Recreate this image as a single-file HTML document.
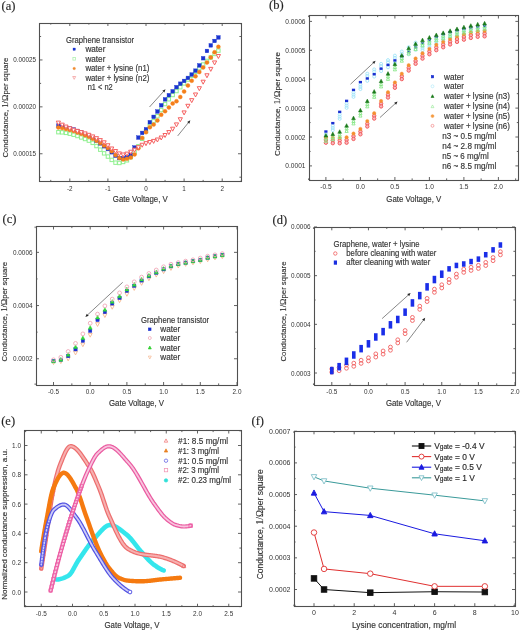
<!DOCTYPE html>
<html><head><meta charset="utf-8"><style>
html,body{margin:0;padding:0;background:#fff;}
svg{display:block;filter:blur(0.35px);}
text{stroke:#383838;stroke-width:0.16px;}
text.t{stroke:none;}
</style></head><body>
<svg width="520" height="631" viewBox="0 0 520 631">
<rect width="520" height="631" fill="#fff"/>
<rect x="39.5" y="23.5" width="202" height="158" fill="none" stroke="#505050" stroke-width="1.1"/>
<path d="M69.8 181.5v-3M69.8 23v3M107.9 181.5v-3M107.9 23v3M146 181.5v-3M146 23v3M184.1 181.5v-3M184.1 23v3M222.2 181.5v-3M222.2 23v3M50.75 181.5v-1.6M50.75 23v1.6M88.85 181.5v-1.6M88.85 23v1.6M126.95 181.5v-1.6M126.95 23v1.6M165.05 181.5v-1.6M165.05 23v1.6M203.15 181.5v-1.6M203.15 23v1.6M241.25 181.5v-1.6M241.25 23v1.6M39.5 153.75h3M241 153.75h-3M39.5 106.85h3M241 106.85h-3M39.5 59.95h3M241 59.95h-3M39.5 177.2h1.6M241 177.2h-1.6M39.5 130.3h1.6M241 130.3h-1.6M39.5 83.4h1.6M241 83.4h-1.6M39.5 36.5h1.6M241 36.5h-1.6" stroke="#505050" stroke-width="0.9" fill="none"/>
<text x="69.8" y="190.5" font-size="6.3" text-anchor="middle" fill="#333" font-family='"Liberation Sans", sans-serif' class="t">-2</text>
<text x="107.9" y="190.5" font-size="6.3" text-anchor="middle" fill="#333" font-family='"Liberation Sans", sans-serif' class="t">-1</text>
<text x="146" y="190.5" font-size="6.3" text-anchor="middle" fill="#333" font-family='"Liberation Sans", sans-serif' class="t">0</text>
<text x="184.1" y="190.5" font-size="6.3" text-anchor="middle" fill="#333" font-family='"Liberation Sans", sans-serif' class="t">1</text>
<text x="222.2" y="190.5" font-size="6.3" text-anchor="middle" fill="#333" font-family='"Liberation Sans", sans-serif' class="t">2</text>
<text x="36" y="156.25" font-size="6.3" text-anchor="end" fill="#333" font-family='"Liberation Sans", sans-serif' class="t">0.00015</text>
<text x="36" y="109.35" font-size="6.3" text-anchor="end" fill="#333" font-family='"Liberation Sans", sans-serif' class="t">0.00020</text>
<text x="36" y="62.45" font-size="6.3" text-anchor="end" fill="#333" font-family='"Liberation Sans", sans-serif' class="t">0.00025</text>
<rect x="56.67" y="130.48" width="3.4" height="3.4" fill="#fff" fill-opacity="0" stroke="#90f090" stroke-width="1.0"/>
<rect x="60.48" y="130.66" width="3.4" height="3.4" fill="#fff" fill-opacity="0" stroke="#90f090" stroke-width="1.0"/>
<rect x="64.29" y="131.18" width="3.4" height="3.4" fill="#fff" fill-opacity="0" stroke="#90f090" stroke-width="1.0"/>
<rect x="68.1" y="131.99" width="3.4" height="3.4" fill="#fff" fill-opacity="0" stroke="#90f090" stroke-width="1.0"/>
<rect x="71.91" y="133.05" width="3.4" height="3.4" fill="#fff" fill-opacity="0" stroke="#90f090" stroke-width="1.0"/>
<rect x="75.72" y="134.31" width="3.4" height="3.4" fill="#fff" fill-opacity="0" stroke="#90f090" stroke-width="1.0"/>
<rect x="79.53" y="135.74" width="3.4" height="3.4" fill="#fff" fill-opacity="0" stroke="#90f090" stroke-width="1.0"/>
<rect x="83.34" y="137.29" width="3.4" height="3.4" fill="#fff" fill-opacity="0" stroke="#90f090" stroke-width="1.0"/>
<rect x="87.15" y="138.92" width="3.4" height="3.4" fill="#fff" fill-opacity="0" stroke="#90f090" stroke-width="1.0"/>
<rect x="90.96" y="141.18" width="3.4" height="3.4" fill="#fff" fill-opacity="0" stroke="#90f090" stroke-width="1.0"/>
<rect x="94.77" y="144.35" width="3.4" height="3.4" fill="#fff" fill-opacity="0" stroke="#90f090" stroke-width="1.0"/>
<rect x="98.58" y="147.99" width="3.4" height="3.4" fill="#fff" fill-opacity="0" stroke="#90f090" stroke-width="1.0"/>
<rect x="102.39" y="151.65" width="3.4" height="3.4" fill="#fff" fill-opacity="0" stroke="#90f090" stroke-width="1.0"/>
<rect x="106.2" y="154.86" width="3.4" height="3.4" fill="#fff" fill-opacity="0" stroke="#90f090" stroke-width="1.0"/>
<rect x="110.01" y="158.2" width="3.4" height="3.4" fill="#fff" fill-opacity="0" stroke="#90f090" stroke-width="1.0"/>
<rect x="113.82" y="160.98" width="3.4" height="3.4" fill="#fff" fill-opacity="0" stroke="#90f090" stroke-width="1.0"/>
<rect x="117.63" y="161.28" width="3.4" height="3.4" fill="#fff" fill-opacity="0" stroke="#90f090" stroke-width="1.0"/>
<rect x="121.44" y="160.25" width="3.4" height="3.4" fill="#fff" fill-opacity="0" stroke="#90f090" stroke-width="1.0"/>
<rect x="125.25" y="158.62" width="3.4" height="3.4" fill="#fff" fill-opacity="0" stroke="#90f090" stroke-width="1.0"/>
<rect x="129.06" y="155.48" width="3.4" height="3.4" fill="#fff" fill-opacity="0" stroke="#90f090" stroke-width="1.0"/>
<rect x="132.87" y="150.4" width="3.4" height="3.4" fill="#fff" fill-opacity="0" stroke="#90f090" stroke-width="1.0"/>
<rect x="136.68" y="144.55" width="3.4" height="3.4" fill="#fff" fill-opacity="0" stroke="#90f090" stroke-width="1.0"/>
<rect x="140.49" y="137.1" width="3.4" height="3.4" fill="#fff" fill-opacity="0" stroke="#90f090" stroke-width="1.0"/>
<rect x="144.3" y="129.54" width="3.4" height="3.4" fill="#fff" fill-opacity="0" stroke="#90f090" stroke-width="1.0"/>
<rect x="148.11" y="124.17" width="3.4" height="3.4" fill="#fff" fill-opacity="0" stroke="#90f090" stroke-width="1.0"/>
<rect x="151.92" y="119.53" width="3.4" height="3.4" fill="#fff" fill-opacity="0" stroke="#90f090" stroke-width="1.0"/>
<rect x="155.73" y="114.53" width="3.4" height="3.4" fill="#fff" fill-opacity="0" stroke="#90f090" stroke-width="1.0"/>
<rect x="159.54" y="108.32" width="3.4" height="3.4" fill="#fff" fill-opacity="0" stroke="#90f090" stroke-width="1.0"/>
<rect x="163.35" y="102.34" width="3.4" height="3.4" fill="#fff" fill-opacity="0" stroke="#90f090" stroke-width="1.0"/>
<rect x="167.16" y="97.57" width="3.4" height="3.4" fill="#fff" fill-opacity="0" stroke="#90f090" stroke-width="1.0"/>
<rect x="170.97" y="93.3" width="3.4" height="3.4" fill="#fff" fill-opacity="0" stroke="#90f090" stroke-width="1.0"/>
<rect x="174.78" y="89.34" width="3.4" height="3.4" fill="#fff" fill-opacity="0" stroke="#90f090" stroke-width="1.0"/>
<rect x="178.59" y="85.53" width="3.4" height="3.4" fill="#fff" fill-opacity="0" stroke="#90f090" stroke-width="1.0"/>
<rect x="182.4" y="81.7" width="3.4" height="3.4" fill="#fff" fill-opacity="0" stroke="#90f090" stroke-width="1.0"/>
<rect x="186.21" y="77.83" width="3.4" height="3.4" fill="#fff" fill-opacity="0" stroke="#90f090" stroke-width="1.0"/>
<rect x="190.02" y="74" width="3.4" height="3.4" fill="#fff" fill-opacity="0" stroke="#90f090" stroke-width="1.0"/>
<rect x="193.83" y="70.22" width="3.4" height="3.4" fill="#fff" fill-opacity="0" stroke="#90f090" stroke-width="1.0"/>
<rect x="197.64" y="66.5" width="3.4" height="3.4" fill="#fff" fill-opacity="0" stroke="#90f090" stroke-width="1.0"/>
<rect x="201.45" y="62.84" width="3.4" height="3.4" fill="#fff" fill-opacity="0" stroke="#90f090" stroke-width="1.0"/>
<rect x="205.26" y="59.24" width="3.4" height="3.4" fill="#fff" fill-opacity="0" stroke="#90f090" stroke-width="1.0"/>
<rect x="209.07" y="55.71" width="3.4" height="3.4" fill="#fff" fill-opacity="0" stroke="#90f090" stroke-width="1.0"/>
<rect x="212.88" y="52.25" width="3.4" height="3.4" fill="#fff" fill-opacity="0" stroke="#90f090" stroke-width="1.0"/>
<rect x="216.69" y="48.87" width="3.4" height="3.4" fill="#fff" fill-opacity="0" stroke="#90f090" stroke-width="1.0"/>
<rect x="56.57" y="123.81" width="3.6" height="3.6" fill="#1a34d0" stroke="#1a34d0" stroke-width="0.4"/>
<rect x="60.38" y="124.42" width="3.6" height="3.6" fill="#1a34d0" stroke="#1a34d0" stroke-width="0.4"/>
<rect x="64.19" y="125.28" width="3.6" height="3.6" fill="#1a34d0" stroke="#1a34d0" stroke-width="0.4"/>
<rect x="68" y="126.37" width="3.6" height="3.6" fill="#1a34d0" stroke="#1a34d0" stroke-width="0.4"/>
<rect x="71.81" y="127.66" width="3.6" height="3.6" fill="#1a34d0" stroke="#1a34d0" stroke-width="0.4"/>
<rect x="75.62" y="129.11" width="3.6" height="3.6" fill="#1a34d0" stroke="#1a34d0" stroke-width="0.4"/>
<rect x="79.43" y="130.69" width="3.6" height="3.6" fill="#1a34d0" stroke="#1a34d0" stroke-width="0.4"/>
<rect x="83.24" y="132.38" width="3.6" height="3.6" fill="#1a34d0" stroke="#1a34d0" stroke-width="0.4"/>
<rect x="87.05" y="134.13" width="3.6" height="3.6" fill="#1a34d0" stroke="#1a34d0" stroke-width="0.4"/>
<rect x="90.86" y="136.21" width="3.6" height="3.6" fill="#1a34d0" stroke="#1a34d0" stroke-width="0.4"/>
<rect x="94.67" y="138.76" width="3.6" height="3.6" fill="#1a34d0" stroke="#1a34d0" stroke-width="0.4"/>
<rect x="98.48" y="141.58" width="3.6" height="3.6" fill="#1a34d0" stroke="#1a34d0" stroke-width="0.4"/>
<rect x="102.29" y="144.48" width="3.6" height="3.6" fill="#1a34d0" stroke="#1a34d0" stroke-width="0.4"/>
<rect x="106.1" y="147.26" width="3.6" height="3.6" fill="#1a34d0" stroke="#1a34d0" stroke-width="0.4"/>
<rect x="109.91" y="150.47" width="3.6" height="3.6" fill="#1a34d0" stroke="#1a34d0" stroke-width="0.4"/>
<rect x="113.72" y="153.92" width="3.6" height="3.6" fill="#1a34d0" stroke="#1a34d0" stroke-width="0.4"/>
<rect x="117.53" y="156.28" width="3.6" height="3.6" fill="#1a34d0" stroke="#1a34d0" stroke-width="0.4"/>
<rect x="121.34" y="156.45" width="3.6" height="3.6" fill="#1a34d0" stroke="#1a34d0" stroke-width="0.4"/>
<rect x="125.15" y="155.13" width="3.6" height="3.6" fill="#1a34d0" stroke="#1a34d0" stroke-width="0.4"/>
<rect x="128.96" y="152.89" width="3.6" height="3.6" fill="#1a34d0" stroke="#1a34d0" stroke-width="0.4"/>
<rect x="132.77" y="145.73" width="3.6" height="3.6" fill="#1a34d0" stroke="#1a34d0" stroke-width="0.4"/>
<rect x="136.58" y="135.78" width="3.6" height="3.6" fill="#1a34d0" stroke="#1a34d0" stroke-width="0.4"/>
<rect x="140.39" y="131.11" width="3.6" height="3.6" fill="#1a34d0" stroke="#1a34d0" stroke-width="0.4"/>
<rect x="144.2" y="127.42" width="3.6" height="3.6" fill="#1a34d0" stroke="#1a34d0" stroke-width="0.4"/>
<rect x="148.01" y="120.4" width="3.6" height="3.6" fill="#1a34d0" stroke="#1a34d0" stroke-width="0.4"/>
<rect x="151.82" y="115.05" width="3.6" height="3.6" fill="#1a34d0" stroke="#1a34d0" stroke-width="0.4"/>
<rect x="155.63" y="109.74" width="3.6" height="3.6" fill="#1a34d0" stroke="#1a34d0" stroke-width="0.4"/>
<rect x="159.44" y="103.49" width="3.6" height="3.6" fill="#1a34d0" stroke="#1a34d0" stroke-width="0.4"/>
<rect x="163.25" y="97.55" width="3.6" height="3.6" fill="#1a34d0" stroke="#1a34d0" stroke-width="0.4"/>
<rect x="167.06" y="93.39" width="3.6" height="3.6" fill="#1a34d0" stroke="#1a34d0" stroke-width="0.4"/>
<rect x="170.87" y="89.5" width="3.6" height="3.6" fill="#1a34d0" stroke="#1a34d0" stroke-width="0.4"/>
<rect x="174.68" y="85.35" width="3.6" height="3.6" fill="#1a34d0" stroke="#1a34d0" stroke-width="0.4"/>
<rect x="178.49" y="81.9" width="3.6" height="3.6" fill="#1a34d0" stroke="#1a34d0" stroke-width="0.4"/>
<rect x="182.3" y="79.13" width="3.6" height="3.6" fill="#1a34d0" stroke="#1a34d0" stroke-width="0.4"/>
<rect x="186.11" y="76.12" width="3.6" height="3.6" fill="#1a34d0" stroke="#1a34d0" stroke-width="0.4"/>
<rect x="189.92" y="72.78" width="3.6" height="3.6" fill="#1a34d0" stroke="#1a34d0" stroke-width="0.4"/>
<rect x="193.73" y="68.86" width="3.6" height="3.6" fill="#1a34d0" stroke="#1a34d0" stroke-width="0.4"/>
<rect x="197.54" y="63.61" width="3.6" height="3.6" fill="#1a34d0" stroke="#1a34d0" stroke-width="0.4"/>
<rect x="201.35" y="56.44" width="3.6" height="3.6" fill="#1a34d0" stroke="#1a34d0" stroke-width="0.4"/>
<rect x="205.16" y="49.16" width="3.6" height="3.6" fill="#1a34d0" stroke="#1a34d0" stroke-width="0.4"/>
<rect x="208.97" y="43.56" width="3.6" height="3.6" fill="#1a34d0" stroke="#1a34d0" stroke-width="0.4"/>
<rect x="212.78" y="39.17" width="3.6" height="3.6" fill="#1a34d0" stroke="#1a34d0" stroke-width="0.4"/>
<rect x="216.59" y="35.64" width="3.6" height="3.6" fill="#1a34d0" stroke="#1a34d0" stroke-width="0.4"/>
<circle cx="58.37" cy="127.49" r="2" fill="#f57f1a" stroke="#f57f1a" stroke-width="0.4"/>
<circle cx="62.18" cy="128.11" r="2" fill="#f57f1a" stroke="#f57f1a" stroke-width="0.4"/>
<circle cx="65.99" cy="128.93" r="2" fill="#f57f1a" stroke="#f57f1a" stroke-width="0.4"/>
<circle cx="69.8" cy="129.94" r="2" fill="#f57f1a" stroke="#f57f1a" stroke-width="0.4"/>
<circle cx="73.61" cy="131.1" r="2" fill="#f57f1a" stroke="#f57f1a" stroke-width="0.4"/>
<circle cx="77.42" cy="132.4" r="2" fill="#f57f1a" stroke="#f57f1a" stroke-width="0.4"/>
<circle cx="81.23" cy="133.81" r="2" fill="#f57f1a" stroke="#f57f1a" stroke-width="0.4"/>
<circle cx="85.04" cy="135.31" r="2" fill="#f57f1a" stroke="#f57f1a" stroke-width="0.4"/>
<circle cx="88.85" cy="136.87" r="2" fill="#f57f1a" stroke="#f57f1a" stroke-width="0.4"/>
<circle cx="92.66" cy="138.65" r="2" fill="#f57f1a" stroke="#f57f1a" stroke-width="0.4"/>
<circle cx="96.47" cy="140.76" r="2" fill="#f57f1a" stroke="#f57f1a" stroke-width="0.4"/>
<circle cx="100.28" cy="143.11" r="2" fill="#f57f1a" stroke="#f57f1a" stroke-width="0.4"/>
<circle cx="104.09" cy="145.6" r="2" fill="#f57f1a" stroke="#f57f1a" stroke-width="0.4"/>
<circle cx="107.9" cy="148.12" r="2" fill="#f57f1a" stroke="#f57f1a" stroke-width="0.4"/>
<circle cx="111.71" cy="151.29" r="2" fill="#f57f1a" stroke="#f57f1a" stroke-width="0.4"/>
<circle cx="115.52" cy="155.01" r="2" fill="#f57f1a" stroke="#f57f1a" stroke-width="0.4"/>
<circle cx="119.33" cy="158.09" r="2" fill="#f57f1a" stroke="#f57f1a" stroke-width="0.4"/>
<circle cx="123.14" cy="159.38" r="2" fill="#f57f1a" stroke="#f57f1a" stroke-width="0.4"/>
<circle cx="126.95" cy="158.83" r="2" fill="#f57f1a" stroke="#f57f1a" stroke-width="0.4"/>
<circle cx="130.76" cy="157.5" r="2" fill="#f57f1a" stroke="#f57f1a" stroke-width="0.4"/>
<circle cx="134.57" cy="154.38" r="2" fill="#f57f1a" stroke="#f57f1a" stroke-width="0.4"/>
<circle cx="138.38" cy="148.36" r="2" fill="#f57f1a" stroke="#f57f1a" stroke-width="0.4"/>
<circle cx="142.19" cy="137.89" r="2" fill="#f57f1a" stroke="#f57f1a" stroke-width="0.4"/>
<circle cx="146" cy="132.18" r="2" fill="#f57f1a" stroke="#f57f1a" stroke-width="0.4"/>
<circle cx="149.81" cy="127.28" r="2" fill="#f57f1a" stroke="#f57f1a" stroke-width="0.4"/>
<circle cx="153.62" cy="124.58" r="2" fill="#f57f1a" stroke="#f57f1a" stroke-width="0.4"/>
<circle cx="157.43" cy="120.45" r="2" fill="#f57f1a" stroke="#f57f1a" stroke-width="0.4"/>
<circle cx="161.24" cy="114.74" r="2" fill="#f57f1a" stroke="#f57f1a" stroke-width="0.4"/>
<circle cx="165.05" cy="111.23" r="2" fill="#f57f1a" stroke="#f57f1a" stroke-width="0.4"/>
<circle cx="168.86" cy="107.48" r="2" fill="#f57f1a" stroke="#f57f1a" stroke-width="0.4"/>
<circle cx="172.67" cy="103.49" r="2" fill="#f57f1a" stroke="#f57f1a" stroke-width="0.4"/>
<circle cx="176.48" cy="101.22" r="2" fill="#f57f1a" stroke="#f57f1a" stroke-width="0.4"/>
<circle cx="180.29" cy="97" r="2" fill="#f57f1a" stroke="#f57f1a" stroke-width="0.4"/>
<circle cx="184.1" cy="91.57" r="2" fill="#f57f1a" stroke="#f57f1a" stroke-width="0.4"/>
<circle cx="187.91" cy="85.55" r="2" fill="#f57f1a" stroke="#f57f1a" stroke-width="0.4"/>
<circle cx="191.72" cy="80.71" r="2" fill="#f57f1a" stroke="#f57f1a" stroke-width="0.4"/>
<circle cx="195.53" cy="76.33" r="2" fill="#f57f1a" stroke="#f57f1a" stroke-width="0.4"/>
<circle cx="199.34" cy="72.04" r="2" fill="#f57f1a" stroke="#f57f1a" stroke-width="0.4"/>
<circle cx="203.15" cy="67.45" r="2" fill="#f57f1a" stroke="#f57f1a" stroke-width="0.4"/>
<circle cx="206.96" cy="62.52" r="2" fill="#f57f1a" stroke="#f57f1a" stroke-width="0.4"/>
<circle cx="210.77" cy="57.43" r="2" fill="#f57f1a" stroke="#f57f1a" stroke-width="0.4"/>
<circle cx="214.58" cy="52.19" r="2" fill="#f57f1a" stroke="#f57f1a" stroke-width="0.4"/>
<circle cx="218.39" cy="46.82" r="2" fill="#f57f1a" stroke="#f57f1a" stroke-width="0.4"/>
<path d="M58.37 125.11L60.47 121.12L56.27 121.12Z" fill="#fff" stroke="#f56060" stroke-width="1.0"/>
<path d="M62.18 127.14L64.28 123.15L60.08 123.15Z" fill="#fff" stroke="#f56060" stroke-width="1.0"/>
<path d="M65.99 129.04L68.09 125.05L63.89 125.05Z" fill="#fff" stroke="#f56060" stroke-width="1.0"/>
<path d="M69.8 130.73L71.9 126.74L67.7 126.74Z" fill="#fff" stroke="#f56060" stroke-width="1.0"/>
<path d="M73.61 132.17L75.71 128.18L71.51 128.18Z" fill="#fff" stroke="#f56060" stroke-width="1.0"/>
<path d="M77.42 133.43L79.52 129.44L75.32 129.44Z" fill="#fff" stroke="#f56060" stroke-width="1.0"/>
<path d="M81.23 134.62L83.33 130.63L79.13 130.63Z" fill="#fff" stroke="#f56060" stroke-width="1.0"/>
<path d="M85.04 135.87L87.14 131.88L82.94 131.88Z" fill="#fff" stroke="#f56060" stroke-width="1.0"/>
<path d="M88.85 137.3L90.95 133.31L86.75 133.31Z" fill="#fff" stroke="#f56060" stroke-width="1.0"/>
<path d="M92.66 138.91L94.76 134.92L90.56 134.92Z" fill="#fff" stroke="#f56060" stroke-width="1.0"/>
<path d="M96.47 140.65L98.57 136.66L94.37 136.66Z" fill="#fff" stroke="#f56060" stroke-width="1.0"/>
<path d="M100.28 142.6L102.38 138.61L98.18 138.61Z" fill="#fff" stroke="#f56060" stroke-width="1.0"/>
<path d="M104.09 144.8L106.19 140.81L101.99 140.81Z" fill="#fff" stroke="#f56060" stroke-width="1.0"/>
<path d="M107.9 147.74L110 143.75L105.8 143.75Z" fill="#fff" stroke="#f56060" stroke-width="1.0"/>
<path d="M111.71 150.98L113.81 146.99L109.61 146.99Z" fill="#fff" stroke="#f56060" stroke-width="1.0"/>
<path d="M115.52 153.53L117.62 149.54L113.42 149.54Z" fill="#fff" stroke="#f56060" stroke-width="1.0"/>
<path d="M119.33 155.9L121.43 151.91L117.23 151.91Z" fill="#fff" stroke="#f56060" stroke-width="1.0"/>
<path d="M123.14 157L125.24 153.01L121.04 153.01Z" fill="#fff" stroke="#f56060" stroke-width="1.0"/>
<path d="M126.95 156.11L129.05 152.12L124.85 152.12Z" fill="#fff" stroke="#f56060" stroke-width="1.0"/>
<path d="M130.76 154.22L132.86 150.23L128.66 150.23Z" fill="#fff" stroke="#f56060" stroke-width="1.0"/>
<path d="M134.57 152.2L136.67 148.21L132.47 148.21Z" fill="#fff" stroke="#f56060" stroke-width="1.0"/>
<path d="M138.38 149.65L140.48 145.66L136.28 145.66Z" fill="#fff" stroke="#f56060" stroke-width="1.0"/>
<path d="M142.19 147.24L144.29 143.25L140.09 143.25Z" fill="#fff" stroke="#f56060" stroke-width="1.0"/>
<path d="M146 145.66L148.1 141.67L143.9 141.67Z" fill="#fff" stroke="#f56060" stroke-width="1.0"/>
<path d="M149.81 144.51L151.91 140.52L147.71 140.52Z" fill="#fff" stroke="#f56060" stroke-width="1.0"/>
<path d="M153.62 143.41L155.72 139.42L151.52 139.42Z" fill="#fff" stroke="#f56060" stroke-width="1.0"/>
<path d="M157.43 141.99L159.53 138L155.33 138Z" fill="#fff" stroke="#f56060" stroke-width="1.0"/>
<path d="M161.24 140L163.34 136.01L159.14 136.01Z" fill="#fff" stroke="#f56060" stroke-width="1.0"/>
<path d="M165.05 137.51L167.15 133.52L162.95 133.52Z" fill="#fff" stroke="#f56060" stroke-width="1.0"/>
<path d="M168.86 134.56L170.96 130.57L166.76 130.57Z" fill="#fff" stroke="#f56060" stroke-width="1.0"/>
<path d="M172.67 131.18L174.77 127.19L170.57 127.19Z" fill="#fff" stroke="#f56060" stroke-width="1.0"/>
<path d="M176.48 126.89L178.58 122.9L174.38 122.9Z" fill="#fff" stroke="#f56060" stroke-width="1.0"/>
<path d="M180.29 121.73L182.39 117.74L178.19 117.74Z" fill="#fff" stroke="#f56060" stroke-width="1.0"/>
<path d="M184.1 114.92L186.2 110.93L182 110.93Z" fill="#fff" stroke="#f56060" stroke-width="1.0"/>
<path d="M187.91 108.28L190.01 104.29L185.81 104.29Z" fill="#fff" stroke="#f56060" stroke-width="1.0"/>
<path d="M191.72 102.65L193.82 98.66L189.62 98.66Z" fill="#fff" stroke="#f56060" stroke-width="1.0"/>
<path d="M195.53 96.97L197.63 92.98L193.43 92.98Z" fill="#fff" stroke="#f56060" stroke-width="1.0"/>
<path d="M199.34 90.68L201.44 86.69L197.24 86.69Z" fill="#fff" stroke="#f56060" stroke-width="1.0"/>
<path d="M203.15 84.18L205.25 80.19L201.05 80.19Z" fill="#fff" stroke="#f56060" stroke-width="1.0"/>
<path d="M206.96 77.77L209.06 73.78L204.86 73.78Z" fill="#fff" stroke="#f56060" stroke-width="1.0"/>
<path d="M210.77 71.36L212.87 67.37L208.67 67.37Z" fill="#fff" stroke="#f56060" stroke-width="1.0"/>
<path d="M214.58 64.94L216.68 60.95L212.48 60.95Z" fill="#fff" stroke="#f56060" stroke-width="1.0"/>
<path d="M218.39 58.51L220.49 54.52L216.29 54.52Z" fill="#fff" stroke="#f56060" stroke-width="1.0"/>
<path d="M149.5 107L163.35 91.67" stroke="#555" stroke-width="0.7"/>
<path d="M165.5 89.3L164.39 92.61L162.32 90.74Z" fill="#222"/>
<path d="M177.7 135.9L188.29 122.79" stroke="#555" stroke-width="0.7"/>
<path d="M190.3 120.3L189.38 123.67L187.2 121.91Z" fill="#222"/>
<text x="66" y="43" font-size="8.6" text-anchor="start" fill="#333" font-family='"Liberation Sans", sans-serif' textLength="68" lengthAdjust="spacingAndGlyphs">Graphene transistor</text>
<rect x="73" y="48" width="2.4" height="2.4" fill="#1a34d0" stroke="#1a34d0" stroke-width="0.3"/>
<rect x="72.9" y="57.5" width="2.6" height="2.6" fill="#fff" fill-opacity="0" stroke="#b0f0b0" stroke-width="0.8"/>
<circle cx="74.2" cy="68.5" r="1.3" fill="#f08a30" stroke="#f08a30" stroke-width="0.3"/>
<path d="M74.2 79.35L75.7 76.5L72.7 76.5Z" fill="none" stroke="#f4a0a0" stroke-width="0.8"/>
<text x="85.4" y="52.1" font-size="8.6" text-anchor="start" fill="#333" font-family='"Liberation Sans", sans-serif' textLength="20" lengthAdjust="spacingAndGlyphs">water</text>
<text x="85.4" y="61.7" font-size="8.6" text-anchor="start" fill="#333" font-family='"Liberation Sans", sans-serif' textLength="20" lengthAdjust="spacingAndGlyphs">water</text>
<text x="85.4" y="71.4" font-size="8.6" text-anchor="start" fill="#333" font-family='"Liberation Sans", sans-serif' textLength="64" lengthAdjust="spacingAndGlyphs">water + lysine (n1)</text>
<text x="85.4" y="80.6" font-size="8.6" text-anchor="start" fill="#333" font-family='"Liberation Sans", sans-serif' textLength="64" lengthAdjust="spacingAndGlyphs">water + lysine (n2)</text>
<text x="87.7" y="89.6" font-size="8.6" text-anchor="start" fill="#333" font-family='"Liberation Sans", sans-serif' textLength="25" lengthAdjust="spacingAndGlyphs">n1 &lt; n2</text>
<text x="140.3" y="202.3" font-size="8.8" text-anchor="middle" fill="#333" font-family='"Liberation Sans", sans-serif' textLength="55" lengthAdjust="spacingAndGlyphs">Gate Voltage, V</text>
<text transform="translate(7.8,107.6) rotate(-90)" x="0" y="0" font-size="8.0" text-anchor="middle" fill="#333" font-family='"Liberation Sans", sans-serif' textLength="100" lengthAdjust="spacingAndGlyphs">Conductance, <tspan font-family='"Liberation Serif", serif' font-size="1.12em">1/Ω</tspan>per square</text>
<text x="1.5" y="9.6" font-size="12.5" fill="#222" font-family='"Liberation Serif", serif'>(a)</text>
<rect x="309.5" y="15.5" width="209" height="165" fill="none" stroke="#505050" stroke-width="1.1"/>
<path d="M325.9 180v-3M325.9 15.5v3M360.4 180v-3M360.4 15.5v3M394.9 180v-3M394.9 15.5v3M429.4 180v-3M429.4 15.5v3M463.9 180v-3M463.9 15.5v3M498.4 180v-3M498.4 15.5v3M308.65 180v-1.6M308.65 15.5v1.6M343.15 180v-1.6M343.15 15.5v1.6M377.65 180v-1.6M377.65 15.5v1.6M412.15 180v-1.6M412.15 15.5v1.6M446.65 180v-1.6M446.65 15.5v1.6M481.15 180v-1.6M481.15 15.5v1.6M515.65 180v-1.6M515.65 15.5v1.6M309 165.9h3M518.4 165.9h-3M309 137h3M518.4 137h-3M309 108.1h3M518.4 108.1h-3M309 79.2h3M518.4 79.2h-3M309 50.3h3M518.4 50.3h-3M309 21.4h3M518.4 21.4h-3M309 180.35h1.6M518.4 180.35h-1.6M309 151.45h1.6M518.4 151.45h-1.6M309 122.55h1.6M518.4 122.55h-1.6M309 93.65h1.6M518.4 93.65h-1.6M309 64.75h1.6M518.4 64.75h-1.6M309 35.85h1.6M518.4 35.85h-1.6" stroke="#505050" stroke-width="0.9" fill="none"/>
<text x="325.9" y="189" font-size="6.6" text-anchor="middle" fill="#333" font-family='"Liberation Sans", sans-serif' class="t">-0.5</text>
<text x="360.4" y="189" font-size="6.6" text-anchor="middle" fill="#333" font-family='"Liberation Sans", sans-serif' class="t">0.0</text>
<text x="394.9" y="189" font-size="6.6" text-anchor="middle" fill="#333" font-family='"Liberation Sans", sans-serif' class="t">0.5</text>
<text x="429.4" y="189" font-size="6.6" text-anchor="middle" fill="#333" font-family='"Liberation Sans", sans-serif' class="t">1.0</text>
<text x="463.9" y="189" font-size="6.6" text-anchor="middle" fill="#333" font-family='"Liberation Sans", sans-serif' class="t">1.5</text>
<text x="498.4" y="189" font-size="6.6" text-anchor="middle" fill="#333" font-family='"Liberation Sans", sans-serif' class="t">2.0</text>
<text x="305.5" y="168.4" font-size="6.6" text-anchor="end" fill="#333" font-family='"Liberation Sans", sans-serif' class="t">0.0001</text>
<text x="305.5" y="139.5" font-size="6.6" text-anchor="end" fill="#333" font-family='"Liberation Sans", sans-serif' class="t">0.0002</text>
<text x="305.5" y="110.6" font-size="6.6" text-anchor="end" fill="#333" font-family='"Liberation Sans", sans-serif' class="t">0.0003</text>
<text x="305.5" y="81.7" font-size="6.6" text-anchor="end" fill="#333" font-family='"Liberation Sans", sans-serif' class="t">0.0004</text>
<text x="305.5" y="52.8" font-size="6.6" text-anchor="end" fill="#333" font-family='"Liberation Sans", sans-serif' class="t">0.0005</text>
<text x="305.5" y="23.9" font-size="6.6" text-anchor="end" fill="#333" font-family='"Liberation Sans", sans-serif' class="t">0.0006</text>
<circle cx="325.9" cy="134.11" r="1.5" fill="none" stroke="#a0e4f8" stroke-width="0.9"/>
<circle cx="325.9" cy="136.31" r="1.5" fill="none" stroke="#a0e4f8" stroke-width="0.9"/>
<circle cx="325.9" cy="138.51" r="1.5" fill="none" stroke="#a0e4f8" stroke-width="0.9"/>
<rect x="324.3" y="130.31" width="3.2" height="2.4" fill="#1a2fd0"/>
<circle cx="332.8" cy="125.73" r="1.5" fill="none" stroke="#a0e4f8" stroke-width="0.9"/>
<circle cx="332.8" cy="127.93" r="1.5" fill="none" stroke="#a0e4f8" stroke-width="0.9"/>
<circle cx="332.8" cy="130.13" r="1.5" fill="none" stroke="#a0e4f8" stroke-width="0.9"/>
<rect x="331.2" y="121.93" width="3.2" height="2.4" fill="#1a2fd0"/>
<circle cx="339.7" cy="114.46" r="1.5" fill="none" stroke="#a0e4f8" stroke-width="0.9"/>
<circle cx="339.7" cy="116.66" r="1.5" fill="none" stroke="#a0e4f8" stroke-width="0.9"/>
<circle cx="339.7" cy="118.86" r="1.5" fill="none" stroke="#a0e4f8" stroke-width="0.9"/>
<rect x="338.1" y="110.66" width="3.2" height="2.4" fill="#1a2fd0"/>
<circle cx="346.6" cy="103.47" r="1.5" fill="none" stroke="#a0e4f8" stroke-width="0.9"/>
<circle cx="346.6" cy="105.67" r="1.5" fill="none" stroke="#a0e4f8" stroke-width="0.9"/>
<circle cx="346.6" cy="107.88" r="1.5" fill="none" stroke="#a0e4f8" stroke-width="0.9"/>
<rect x="345" y="99.67" width="3.2" height="2.4" fill="#1a2fd0"/>
<circle cx="353.5" cy="92.49" r="1.5" fill="none" stroke="#a0e4f8" stroke-width="0.9"/>
<circle cx="353.5" cy="94.69" r="1.5" fill="none" stroke="#a0e4f8" stroke-width="0.9"/>
<circle cx="353.5" cy="96.89" r="1.5" fill="none" stroke="#a0e4f8" stroke-width="0.9"/>
<rect x="351.9" y="88.69" width="3.2" height="2.4" fill="#1a2fd0"/>
<circle cx="360.4" cy="84.69" r="1.5" fill="none" stroke="#a0e4f8" stroke-width="0.9"/>
<circle cx="360.4" cy="86.89" r="1.5" fill="none" stroke="#a0e4f8" stroke-width="0.9"/>
<circle cx="360.4" cy="89.09" r="1.5" fill="none" stroke="#a0e4f8" stroke-width="0.9"/>
<rect x="358.8" y="80.89" width="3.2" height="2.4" fill="#1a2fd0"/>
<circle cx="367.3" cy="75.86" r="1.5" fill="none" stroke="#a0e4f8" stroke-width="0.9"/>
<circle cx="367.3" cy="73.66" r="1.5" fill="none" stroke="#a0e4f8" stroke-width="0.9"/>
<circle cx="367.3" cy="80.86" r="1.5" fill="none" stroke="#a0e4f8" stroke-width="0.9"/>
<rect x="365.7" y="77.26" width="3.2" height="2.4" fill="#1a2fd0"/>
<circle cx="374.2" cy="71.61" r="1.5" fill="none" stroke="#a0e4f8" stroke-width="0.9"/>
<circle cx="374.2" cy="69.41" r="1.5" fill="none" stroke="#a0e4f8" stroke-width="0.9"/>
<circle cx="374.2" cy="76.61" r="1.5" fill="none" stroke="#a0e4f8" stroke-width="0.9"/>
<rect x="372.6" y="73.01" width="3.2" height="2.4" fill="#1a2fd0"/>
<circle cx="381.1" cy="66.06" r="1.5" fill="none" stroke="#a0e4f8" stroke-width="0.9"/>
<circle cx="381.1" cy="63.86" r="1.5" fill="none" stroke="#a0e4f8" stroke-width="0.9"/>
<circle cx="381.1" cy="71.06" r="1.5" fill="none" stroke="#a0e4f8" stroke-width="0.9"/>
<rect x="379.5" y="67.46" width="3.2" height="2.4" fill="#1a2fd0"/>
<circle cx="388" cy="62.31" r="1.5" fill="none" stroke="#a0e4f8" stroke-width="0.9"/>
<circle cx="388" cy="60.11" r="1.5" fill="none" stroke="#a0e4f8" stroke-width="0.9"/>
<circle cx="388" cy="67.31" r="1.5" fill="none" stroke="#a0e4f8" stroke-width="0.9"/>
<rect x="386.4" y="63.71" width="3.2" height="2.4" fill="#1a2fd0"/>
<circle cx="394.9" cy="57.81" r="1.5" fill="none" stroke="#a0e4f8" stroke-width="0.9"/>
<circle cx="394.9" cy="55.61" r="1.5" fill="none" stroke="#a0e4f8" stroke-width="0.9"/>
<circle cx="394.9" cy="62.81" r="1.5" fill="none" stroke="#a0e4f8" stroke-width="0.9"/>
<rect x="393.3" y="59.21" width="3.2" height="2.4" fill="#1a2fd0"/>
<circle cx="401.8" cy="53.73" r="1.5" fill="none" stroke="#a0e4f8" stroke-width="0.9"/>
<circle cx="401.8" cy="51.53" r="1.5" fill="none" stroke="#a0e4f8" stroke-width="0.9"/>
<circle cx="401.8" cy="58.73" r="1.5" fill="none" stroke="#a0e4f8" stroke-width="0.9"/>
<rect x="400.2" y="55.13" width="3.2" height="2.4" fill="#1a2fd0"/>
<circle cx="408.7" cy="49.37" r="1.5" fill="none" stroke="#a0e4f8" stroke-width="0.9"/>
<circle cx="408.7" cy="47.17" r="1.5" fill="none" stroke="#a0e4f8" stroke-width="0.9"/>
<circle cx="408.7" cy="54.37" r="1.5" fill="none" stroke="#a0e4f8" stroke-width="0.9"/>
<rect x="407.1" y="50.77" width="3.2" height="2.4" fill="#1a2fd0"/>
<circle cx="415.6" cy="44.79" r="1.5" fill="none" stroke="#a0e4f8" stroke-width="0.9"/>
<circle cx="415.6" cy="42.59" r="1.5" fill="none" stroke="#a0e4f8" stroke-width="0.9"/>
<circle cx="415.6" cy="49.79" r="1.5" fill="none" stroke="#a0e4f8" stroke-width="0.9"/>
<rect x="414" y="46.19" width="3.2" height="2.4" fill="#1a2fd0"/>
<circle cx="422.5" cy="45.86" r="1.5" fill="none" stroke="#a0e4f8" stroke-width="0.9"/>
<circle cx="422.5" cy="48.06" r="1.5" fill="none" stroke="#a0e4f8" stroke-width="0.9"/>
<circle cx="422.5" cy="50.26" r="1.5" fill="none" stroke="#a0e4f8" stroke-width="0.9"/>
<rect x="420.9" y="42.06" width="3.2" height="2.4" fill="#1a2fd0"/>
<circle cx="429.4" cy="42.54" r="1.5" fill="none" stroke="#a0e4f8" stroke-width="0.9"/>
<circle cx="429.4" cy="44.74" r="1.5" fill="none" stroke="#a0e4f8" stroke-width="0.9"/>
<circle cx="429.4" cy="46.94" r="1.5" fill="none" stroke="#a0e4f8" stroke-width="0.9"/>
<rect x="427.8" y="38.74" width="3.2" height="2.4" fill="#1a2fd0"/>
<circle cx="436.3" cy="39.53" r="1.5" fill="none" stroke="#a0e4f8" stroke-width="0.9"/>
<circle cx="436.3" cy="41.73" r="1.5" fill="none" stroke="#a0e4f8" stroke-width="0.9"/>
<circle cx="436.3" cy="43.93" r="1.5" fill="none" stroke="#a0e4f8" stroke-width="0.9"/>
<rect x="434.7" y="35.73" width="3.2" height="2.4" fill="#1a2fd0"/>
<circle cx="443.2" cy="36.9" r="1.5" fill="none" stroke="#a0e4f8" stroke-width="0.9"/>
<circle cx="443.2" cy="39.1" r="1.5" fill="none" stroke="#a0e4f8" stroke-width="0.9"/>
<circle cx="443.2" cy="41.3" r="1.5" fill="none" stroke="#a0e4f8" stroke-width="0.9"/>
<rect x="441.6" y="33.1" width="3.2" height="2.4" fill="#1a2fd0"/>
<circle cx="450.1" cy="34.76" r="1.5" fill="none" stroke="#a0e4f8" stroke-width="0.9"/>
<circle cx="450.1" cy="36.96" r="1.5" fill="none" stroke="#a0e4f8" stroke-width="0.9"/>
<circle cx="450.1" cy="39.16" r="1.5" fill="none" stroke="#a0e4f8" stroke-width="0.9"/>
<rect x="448.5" y="30.96" width="3.2" height="2.4" fill="#1a2fd0"/>
<circle cx="457" cy="33.04" r="1.5" fill="none" stroke="#a0e4f8" stroke-width="0.9"/>
<circle cx="457" cy="35.24" r="1.5" fill="none" stroke="#a0e4f8" stroke-width="0.9"/>
<circle cx="457" cy="37.44" r="1.5" fill="none" stroke="#a0e4f8" stroke-width="0.9"/>
<rect x="455.4" y="29.24" width="3.2" height="2.4" fill="#1a2fd0"/>
<circle cx="463.9" cy="31.47" r="1.5" fill="none" stroke="#a0e4f8" stroke-width="0.9"/>
<circle cx="463.9" cy="33.67" r="1.5" fill="none" stroke="#a0e4f8" stroke-width="0.9"/>
<circle cx="463.9" cy="35.87" r="1.5" fill="none" stroke="#a0e4f8" stroke-width="0.9"/>
<rect x="462.3" y="27.67" width="3.2" height="2.4" fill="#1a2fd0"/>
<circle cx="470.8" cy="30.11" r="1.5" fill="none" stroke="#a0e4f8" stroke-width="0.9"/>
<circle cx="470.8" cy="32.31" r="1.5" fill="none" stroke="#a0e4f8" stroke-width="0.9"/>
<circle cx="470.8" cy="34.51" r="1.5" fill="none" stroke="#a0e4f8" stroke-width="0.9"/>
<rect x="469.2" y="26.31" width="3.2" height="2.4" fill="#1a2fd0"/>
<circle cx="477.7" cy="29.04" r="1.5" fill="none" stroke="#a0e4f8" stroke-width="0.9"/>
<circle cx="477.7" cy="31.24" r="1.5" fill="none" stroke="#a0e4f8" stroke-width="0.9"/>
<circle cx="477.7" cy="33.44" r="1.5" fill="none" stroke="#a0e4f8" stroke-width="0.9"/>
<rect x="476.1" y="25.24" width="3.2" height="2.4" fill="#1a2fd0"/>
<circle cx="484.6" cy="28.33" r="1.5" fill="none" stroke="#a0e4f8" stroke-width="0.9"/>
<circle cx="484.6" cy="30.53" r="1.5" fill="none" stroke="#a0e4f8" stroke-width="0.9"/>
<circle cx="484.6" cy="32.73" r="1.5" fill="none" stroke="#a0e4f8" stroke-width="0.9"/>
<rect x="483" y="24.53" width="3.2" height="2.4" fill="#1a2fd0"/>
<circle cx="325.9" cy="139.89" r="1.7" fill="#f8b8c0" stroke="#f05050" stroke-width="0.9"/>
<circle cx="325.9" cy="142.69" r="1.7" fill="#f8b8c0" stroke="#f05050" stroke-width="0.9"/>
<circle cx="325.9" cy="137.29" r="1.7" fill="#f59030" stroke="#f59030" stroke-width="0.4"/>
<circle cx="332.8" cy="140.39" r="1.7" fill="#f8b8c0" stroke="#f05050" stroke-width="0.9"/>
<circle cx="332.8" cy="143.19" r="1.7" fill="#f8b8c0" stroke="#f05050" stroke-width="0.9"/>
<circle cx="332.8" cy="137.79" r="1.7" fill="#f59030" stroke="#f59030" stroke-width="0.4"/>
<circle cx="339.7" cy="140.47" r="1.7" fill="#f8b8c0" stroke="#f05050" stroke-width="0.9"/>
<circle cx="339.7" cy="143.27" r="1.7" fill="#f8b8c0" stroke="#f05050" stroke-width="0.9"/>
<circle cx="339.7" cy="137.87" r="1.7" fill="#f59030" stroke="#f59030" stroke-width="0.4"/>
<circle cx="346.6" cy="139.89" r="1.7" fill="#f8b8c0" stroke="#f05050" stroke-width="0.9"/>
<circle cx="346.6" cy="142.69" r="1.7" fill="#f8b8c0" stroke="#f05050" stroke-width="0.9"/>
<circle cx="346.6" cy="137.29" r="1.7" fill="#f59030" stroke="#f59030" stroke-width="0.4"/>
<circle cx="353.5" cy="136.13" r="1.7" fill="#f8b8c0" stroke="#f05050" stroke-width="0.9"/>
<circle cx="353.5" cy="138.93" r="1.7" fill="#f8b8c0" stroke="#f05050" stroke-width="0.9"/>
<circle cx="353.5" cy="133.53" r="1.7" fill="#f59030" stroke="#f59030" stroke-width="0.4"/>
<circle cx="360.4" cy="131.51" r="1.7" fill="#f8b8c0" stroke="#f05050" stroke-width="0.9"/>
<circle cx="360.4" cy="134.31" r="1.7" fill="#f8b8c0" stroke="#f05050" stroke-width="0.9"/>
<circle cx="360.4" cy="128.91" r="1.7" fill="#f59030" stroke="#f59030" stroke-width="0.4"/>
<circle cx="367.3" cy="123.7" r="1.7" fill="#f8b8c0" stroke="#f05050" stroke-width="0.9"/>
<circle cx="367.3" cy="126.5" r="1.7" fill="#f8b8c0" stroke="#f05050" stroke-width="0.9"/>
<circle cx="367.3" cy="121.1" r="1.7" fill="#f59030" stroke="#f59030" stroke-width="0.4"/>
<circle cx="374.2" cy="115.76" r="1.7" fill="#f8b8c0" stroke="#f05050" stroke-width="0.9"/>
<circle cx="374.2" cy="118.56" r="1.7" fill="#f8b8c0" stroke="#f05050" stroke-width="0.9"/>
<circle cx="374.2" cy="113.16" r="1.7" fill="#f59030" stroke="#f59030" stroke-width="0.4"/>
<circle cx="381.1" cy="103.63" r="1.7" fill="#f8b8c0" stroke="#f05050" stroke-width="0.9"/>
<circle cx="381.1" cy="106.43" r="1.7" fill="#f8b8c0" stroke="#f05050" stroke-width="0.9"/>
<circle cx="381.1" cy="101.03" r="1.7" fill="#f59030" stroke="#f59030" stroke-width="0.4"/>
<circle cx="388" cy="94.73" r="1.7" fill="#f8b8c0" stroke="#f05050" stroke-width="0.9"/>
<circle cx="388" cy="97.53" r="1.7" fill="#f8b8c0" stroke="#f05050" stroke-width="0.9"/>
<circle cx="388" cy="92.13" r="1.7" fill="#f59030" stroke="#f59030" stroke-width="0.4"/>
<circle cx="394.9" cy="84.98" r="1.7" fill="#f8b8c0" stroke="#f05050" stroke-width="0.9"/>
<circle cx="394.9" cy="87.78" r="1.7" fill="#f8b8c0" stroke="#f05050" stroke-width="0.9"/>
<circle cx="394.9" cy="82.38" r="1.7" fill="#f59030" stroke="#f59030" stroke-width="0.4"/>
<circle cx="401.8" cy="76.31" r="1.7" fill="#f8b8c0" stroke="#f05050" stroke-width="0.9"/>
<circle cx="401.8" cy="79.11" r="1.7" fill="#f8b8c0" stroke="#f05050" stroke-width="0.9"/>
<circle cx="401.8" cy="73.71" r="1.7" fill="#f59030" stroke="#f59030" stroke-width="0.4"/>
<circle cx="408.7" cy="67.75" r="1.7" fill="#f8b8c0" stroke="#f05050" stroke-width="0.9"/>
<circle cx="408.7" cy="70.55" r="1.7" fill="#f8b8c0" stroke="#f05050" stroke-width="0.9"/>
<circle cx="408.7" cy="65.15" r="1.7" fill="#f59030" stroke="#f59030" stroke-width="0.4"/>
<circle cx="415.6" cy="60.99" r="1.7" fill="#f8b8c0" stroke="#f05050" stroke-width="0.9"/>
<circle cx="415.6" cy="63.79" r="1.7" fill="#f8b8c0" stroke="#f05050" stroke-width="0.9"/>
<circle cx="415.6" cy="58.39" r="1.7" fill="#f59030" stroke="#f59030" stroke-width="0.4"/>
<circle cx="422.5" cy="55.79" r="1.7" fill="#f8b8c0" stroke="#f05050" stroke-width="0.9"/>
<circle cx="422.5" cy="58.59" r="1.7" fill="#f8b8c0" stroke="#f05050" stroke-width="0.9"/>
<circle cx="422.5" cy="53.19" r="1.7" fill="#f59030" stroke="#f59030" stroke-width="0.4"/>
<circle cx="429.4" cy="51.45" r="1.7" fill="#f8b8c0" stroke="#f05050" stroke-width="0.9"/>
<circle cx="429.4" cy="54.25" r="1.7" fill="#f8b8c0" stroke="#f05050" stroke-width="0.9"/>
<circle cx="429.4" cy="48.85" r="1.7" fill="#f59030" stroke="#f59030" stroke-width="0.4"/>
<circle cx="436.3" cy="47.4" r="1.7" fill="#f8b8c0" stroke="#f05050" stroke-width="0.9"/>
<circle cx="436.3" cy="50.2" r="1.7" fill="#f8b8c0" stroke="#f05050" stroke-width="0.9"/>
<circle cx="436.3" cy="44.8" r="1.7" fill="#f59030" stroke="#f59030" stroke-width="0.4"/>
<circle cx="443.2" cy="44.46" r="1.7" fill="#f8b8c0" stroke="#f05050" stroke-width="0.9"/>
<circle cx="443.2" cy="47.26" r="1.7" fill="#f8b8c0" stroke="#f05050" stroke-width="0.9"/>
<circle cx="443.2" cy="41.86" r="1.7" fill="#f59030" stroke="#f59030" stroke-width="0.4"/>
<circle cx="450.1" cy="41.65" r="1.7" fill="#f8b8c0" stroke="#f05050" stroke-width="0.9"/>
<circle cx="450.1" cy="44.45" r="1.7" fill="#f8b8c0" stroke="#f05050" stroke-width="0.9"/>
<circle cx="450.1" cy="39.05" r="1.7" fill="#f59030" stroke="#f59030" stroke-width="0.4"/>
<circle cx="457" cy="39.08" r="1.7" fill="#f8b8c0" stroke="#f05050" stroke-width="0.9"/>
<circle cx="457" cy="41.88" r="1.7" fill="#f8b8c0" stroke="#f05050" stroke-width="0.9"/>
<circle cx="457" cy="36.48" r="1.7" fill="#f59030" stroke="#f59030" stroke-width="0.4"/>
<circle cx="463.9" cy="36.87" r="1.7" fill="#f8b8c0" stroke="#f05050" stroke-width="0.9"/>
<circle cx="463.9" cy="39.67" r="1.7" fill="#f8b8c0" stroke="#f05050" stroke-width="0.9"/>
<circle cx="463.9" cy="34.27" r="1.7" fill="#f59030" stroke="#f59030" stroke-width="0.4"/>
<circle cx="470.8" cy="35.13" r="1.7" fill="#f8b8c0" stroke="#f05050" stroke-width="0.9"/>
<circle cx="470.8" cy="37.93" r="1.7" fill="#f8b8c0" stroke="#f05050" stroke-width="0.9"/>
<circle cx="470.8" cy="32.53" r="1.7" fill="#f59030" stroke="#f59030" stroke-width="0.4"/>
<circle cx="477.7" cy="33.99" r="1.7" fill="#f8b8c0" stroke="#f05050" stroke-width="0.9"/>
<circle cx="477.7" cy="36.79" r="1.7" fill="#f8b8c0" stroke="#f05050" stroke-width="0.9"/>
<circle cx="477.7" cy="31.39" r="1.7" fill="#f59030" stroke="#f59030" stroke-width="0.4"/>
<circle cx="484.6" cy="33.54" r="1.7" fill="#f8b8c0" stroke="#f05050" stroke-width="0.9"/>
<circle cx="484.6" cy="36.34" r="1.7" fill="#f8b8c0" stroke="#f05050" stroke-width="0.9"/>
<circle cx="484.6" cy="30.94" r="1.7" fill="#f59030" stroke="#f59030" stroke-width="0.4"/>
<path d="M325.9 136.8L327.5 139.84L324.3 139.84Z" fill="none" stroke="#88e888" stroke-width="0.9"/>
<path d="M325.9 139.2L327.5 142.24L324.3 142.24Z" fill="none" stroke="#88e888" stroke-width="0.9"/>
<path d="M325.9 133.47L327.8 137.08L324 137.08Z" fill="#1a7a1a" stroke="#1a7a1a" stroke-width="0.5"/>
<path d="M332.8 135.35L334.4 138.39L331.2 138.39Z" fill="none" stroke="#88e888" stroke-width="0.9"/>
<path d="M332.8 137.75L334.4 140.79L331.2 140.79Z" fill="none" stroke="#88e888" stroke-width="0.9"/>
<path d="M332.8 132.02L334.7 135.63L330.9 135.63Z" fill="#1a7a1a" stroke="#1a7a1a" stroke-width="0.5"/>
<path d="M339.7 133.04L341.3 136.08L338.1 136.08Z" fill="none" stroke="#88e888" stroke-width="0.9"/>
<path d="M339.7 135.44L341.3 138.48L338.1 138.48Z" fill="none" stroke="#88e888" stroke-width="0.9"/>
<path d="M339.7 129.71L341.6 133.32L337.8 133.32Z" fill="#1a7a1a" stroke="#1a7a1a" stroke-width="0.5"/>
<path d="M346.6 126.97L348.2 130.01L345 130.01Z" fill="none" stroke="#88e888" stroke-width="0.9"/>
<path d="M346.6 129.37L348.2 132.41L345 132.41Z" fill="none" stroke="#88e888" stroke-width="0.9"/>
<path d="M346.6 123.64L348.5 127.25L344.7 127.25Z" fill="#1a7a1a" stroke="#1a7a1a" stroke-width="0.5"/>
<path d="M353.5 119.45L355.1 122.5L351.9 122.5Z" fill="none" stroke="#88e888" stroke-width="0.9"/>
<path d="M353.5 121.86L355.1 124.9L351.9 124.9Z" fill="none" stroke="#88e888" stroke-width="0.9"/>
<path d="M353.5 116.12L355.4 119.73L351.6 119.73Z" fill="#1a7a1a" stroke="#1a7a1a" stroke-width="0.5"/>
<path d="M360.4 111.65L362 114.69L358.8 114.69Z" fill="none" stroke="#88e888" stroke-width="0.9"/>
<path d="M360.4 114.05L362 117.09L358.8 117.09Z" fill="none" stroke="#88e888" stroke-width="0.9"/>
<path d="M360.4 108.32L362.3 111.93L358.5 111.93Z" fill="#1a7a1a" stroke="#1a7a1a" stroke-width="0.5"/>
<path d="M367.3 102.4L368.9 105.44L365.7 105.44Z" fill="none" stroke="#88e888" stroke-width="0.9"/>
<path d="M367.3 104.8L368.9 107.84L365.7 107.84Z" fill="none" stroke="#88e888" stroke-width="0.9"/>
<path d="M367.3 99.07L369.2 102.68L365.4 102.68Z" fill="#1a7a1a" stroke="#1a7a1a" stroke-width="0.5"/>
<path d="M374.2 92.87L375.8 95.91L372.6 95.91Z" fill="none" stroke="#88e888" stroke-width="0.9"/>
<path d="M374.2 95.27L375.8 98.31L372.6 98.31Z" fill="none" stroke="#88e888" stroke-width="0.9"/>
<path d="M374.2 89.54L376.1 93.15L372.3 93.15Z" fill="#1a7a1a" stroke="#1a7a1a" stroke-width="0.5"/>
<path d="M381.1 82.47L382.7 85.51L379.5 85.51Z" fill="none" stroke="#88e888" stroke-width="0.9"/>
<path d="M381.1 84.87L382.7 87.91L379.5 87.91Z" fill="none" stroke="#88e888" stroke-width="0.9"/>
<path d="M381.1 79.14L383 82.75L379.2 82.75Z" fill="#1a7a1a" stroke="#1a7a1a" stroke-width="0.5"/>
<path d="M388 74.95L389.6 77.99L386.4 77.99Z" fill="none" stroke="#88e888" stroke-width="0.9"/>
<path d="M388 77.35L389.6 80.39L386.4 80.39Z" fill="none" stroke="#88e888" stroke-width="0.9"/>
<path d="M388 71.62L389.9 75.23L386.1 75.23Z" fill="#1a7a1a" stroke="#1a7a1a" stroke-width="0.5"/>
<path d="M394.9 65.41L396.5 68.45L393.3 68.45Z" fill="none" stroke="#88e888" stroke-width="0.9"/>
<path d="M394.9 67.81L396.5 70.85L393.3 70.85Z" fill="none" stroke="#88e888" stroke-width="0.9"/>
<path d="M394.9 62.08L396.8 65.69L393 65.69Z" fill="#1a7a1a" stroke="#1a7a1a" stroke-width="0.5"/>
<path d="M401.8 56.74L403.4 59.78L400.2 59.78Z" fill="none" stroke="#88e888" stroke-width="0.9"/>
<path d="M401.8 59.14L403.4 62.18L400.2 62.18Z" fill="none" stroke="#88e888" stroke-width="0.9"/>
<path d="M401.8 53.41L403.7 57.02L399.9 57.02Z" fill="#1a7a1a" stroke="#1a7a1a" stroke-width="0.5"/>
<path d="M408.7 49.55L410.3 52.59L407.1 52.59Z" fill="none" stroke="#88e888" stroke-width="0.9"/>
<path d="M408.7 51.95L410.3 54.99L407.1 54.99Z" fill="none" stroke="#88e888" stroke-width="0.9"/>
<path d="M408.7 46.22L410.6 49.83L406.8 49.83Z" fill="#1a7a1a" stroke="#1a7a1a" stroke-width="0.5"/>
<path d="M415.6 45.18L417.2 48.22L414 48.22Z" fill="none" stroke="#88e888" stroke-width="0.9"/>
<path d="M415.6 47.58L417.2 50.62L414 50.62Z" fill="none" stroke="#88e888" stroke-width="0.9"/>
<path d="M415.6 41.85L417.5 45.46L413.7 45.46Z" fill="#1a7a1a" stroke="#1a7a1a" stroke-width="0.5"/>
<path d="M422.5 41.43L424.1 44.47L420.9 44.47Z" fill="none" stroke="#88e888" stroke-width="0.9"/>
<path d="M422.5 43.83L424.1 46.87L420.9 46.87Z" fill="none" stroke="#88e888" stroke-width="0.9"/>
<path d="M422.5 38.09L424.4 41.71L420.6 41.71Z" fill="#1a7a1a" stroke="#1a7a1a" stroke-width="0.5"/>
<path d="M429.4 38.82L431 41.86L427.8 41.86Z" fill="none" stroke="#88e888" stroke-width="0.9"/>
<path d="M429.4 41.22L431 44.26L427.8 44.26Z" fill="none" stroke="#88e888" stroke-width="0.9"/>
<path d="M429.4 35.49L431.3 39.1L427.5 39.1Z" fill="#1a7a1a" stroke="#1a7a1a" stroke-width="0.5"/>
<path d="M436.3 36.3L437.9 39.34L434.7 39.34Z" fill="none" stroke="#88e888" stroke-width="0.9"/>
<path d="M436.3 38.7L437.9 41.74L434.7 41.74Z" fill="none" stroke="#88e888" stroke-width="0.9"/>
<path d="M436.3 32.97L438.2 36.58L434.4 36.58Z" fill="#1a7a1a" stroke="#1a7a1a" stroke-width="0.5"/>
<path d="M443.2 34.19L444.8 37.23L441.6 37.23Z" fill="none" stroke="#88e888" stroke-width="0.9"/>
<path d="M443.2 36.59L444.8 39.63L441.6 39.63Z" fill="none" stroke="#88e888" stroke-width="0.9"/>
<path d="M443.2 30.86L445.1 34.47L441.3 34.47Z" fill="#1a7a1a" stroke="#1a7a1a" stroke-width="0.5"/>
<path d="M450.1 32.17L451.7 35.21L448.5 35.21Z" fill="none" stroke="#88e888" stroke-width="0.9"/>
<path d="M450.1 34.57L451.7 37.61L448.5 37.61Z" fill="none" stroke="#88e888" stroke-width="0.9"/>
<path d="M450.1 28.84L452 32.45L448.2 32.45Z" fill="#1a7a1a" stroke="#1a7a1a" stroke-width="0.5"/>
<path d="M457 30.27L458.6 33.31L455.4 33.31Z" fill="none" stroke="#88e888" stroke-width="0.9"/>
<path d="M457 32.67L458.6 35.71L455.4 35.71Z" fill="none" stroke="#88e888" stroke-width="0.9"/>
<path d="M457 26.94L458.9 30.55L455.1 30.55Z" fill="#1a7a1a" stroke="#1a7a1a" stroke-width="0.5"/>
<path d="M463.9 28.53L465.5 31.57L462.3 31.57Z" fill="none" stroke="#88e888" stroke-width="0.9"/>
<path d="M463.9 30.93L465.5 33.97L462.3 33.97Z" fill="none" stroke="#88e888" stroke-width="0.9"/>
<path d="M463.9 25.2L465.8 28.81L462 28.81Z" fill="#1a7a1a" stroke="#1a7a1a" stroke-width="0.5"/>
<path d="M470.8 26.99L472.4 30.03L469.2 30.03Z" fill="none" stroke="#88e888" stroke-width="0.9"/>
<path d="M470.8 29.39L472.4 32.43L469.2 32.43Z" fill="none" stroke="#88e888" stroke-width="0.9"/>
<path d="M470.8 23.66L472.7 27.27L468.9 27.27Z" fill="#1a7a1a" stroke="#1a7a1a" stroke-width="0.5"/>
<path d="M477.7 25.69L479.3 28.73L476.1 28.73Z" fill="none" stroke="#88e888" stroke-width="0.9"/>
<path d="M477.7 28.09L479.3 31.13L476.1 31.13Z" fill="none" stroke="#88e888" stroke-width="0.9"/>
<path d="M477.7 22.36L479.6 25.97L475.8 25.97Z" fill="#1a7a1a" stroke="#1a7a1a" stroke-width="0.5"/>
<path d="M484.6 24.66L486.2 27.7L483 27.7Z" fill="none" stroke="#88e888" stroke-width="0.9"/>
<path d="M484.6 27.06L486.2 30.1L483 30.1Z" fill="none" stroke="#88e888" stroke-width="0.9"/>
<path d="M484.6 21.33L486.5 24.94L482.7 24.94Z" fill="#1a7a1a" stroke="#1a7a1a" stroke-width="0.5"/>
<path d="M350.5 84.2L373.26 62.98" stroke="#555" stroke-width="0.7"/>
<path d="M375.6 60.8L374.21 64.01L372.3 61.96Z" fill="#222"/>
<path d="M380 117.5L395.14 103.66" stroke="#555" stroke-width="0.7"/>
<path d="M397.5 101.5L396.08 104.69L394.19 102.63Z" fill="#222"/>
<rect x="431.3" y="75.5" width="2.4" height="2.4" fill="#1a2fd0" stroke="#1a2fd0" stroke-width="0.6"/>
<text x="444" y="79.6" font-size="8.6" text-anchor="start" fill="#333" font-family='"Liberation Sans", sans-serif' textLength="20" lengthAdjust="spacingAndGlyphs">water</text>
<circle cx="432.5" cy="86.3" r="1.45" fill="none" stroke="#a8e8f8" stroke-width="0.6"/>
<text x="444" y="89.2" font-size="8.6" text-anchor="start" fill="#333" font-family='"Liberation Sans", sans-serif' textLength="20" lengthAdjust="spacingAndGlyphs">water</text>
<path d="M432.5 94.7L433.95 97.46L431.05 97.46Z" fill="#1a7a1a" stroke="#1a7a1a" stroke-width="0.6"/>
<text x="444" y="99.2" font-size="8.6" text-anchor="start" fill="#333" font-family='"Liberation Sans", sans-serif' textLength="66" lengthAdjust="spacingAndGlyphs">water + lysine (n3)</text>
<path d="M432.5 104.91L433.95 107.66L431.05 107.66Z" fill="none" stroke="#90e890" stroke-width="0.6"/>
<text x="444" y="109.4" font-size="8.6" text-anchor="start" fill="#333" font-family='"Liberation Sans", sans-serif' textLength="66" lengthAdjust="spacingAndGlyphs">water + lysine (n4)</text>
<circle cx="432.5" cy="116.1" r="1.45" fill="#f59a40" stroke="#f59a40" stroke-width="0.6"/>
<text x="444" y="119" font-size="8.6" text-anchor="start" fill="#333" font-family='"Liberation Sans", sans-serif' textLength="66" lengthAdjust="spacingAndGlyphs">water + lysine (n5)</text>
<circle cx="432.5" cy="125.8" r="1.45" fill="none" stroke="#f07070" stroke-width="0.6"/>
<text x="444" y="128.7" font-size="8.6" text-anchor="start" fill="#333" font-family='"Liberation Sans", sans-serif' textLength="66" lengthAdjust="spacingAndGlyphs">water + lysine (n6)</text>
<text x="442.3" y="138.8" font-size="8.6" text-anchor="start" fill="#333" font-family='"Liberation Sans", sans-serif' textLength="54" lengthAdjust="spacingAndGlyphs">n3 ~ 0.5 mg/ml</text>
<text x="442.3" y="148.8" font-size="8.6" text-anchor="start" fill="#333" font-family='"Liberation Sans", sans-serif' textLength="54" lengthAdjust="spacingAndGlyphs">n4 ~ 2.8 mg/ml</text>
<text x="442.3" y="158.8" font-size="8.6" text-anchor="start" fill="#333" font-family='"Liberation Sans", sans-serif' textLength="46.5" lengthAdjust="spacingAndGlyphs">n5 ~ 6 mg/ml</text>
<text x="442.3" y="168.5" font-size="8.6" text-anchor="start" fill="#333" font-family='"Liberation Sans", sans-serif' textLength="54" lengthAdjust="spacingAndGlyphs">n6 ~ 8.5 mg/ml</text>
<text x="413.8" y="202.3" font-size="8.8" text-anchor="middle" fill="#333" font-family='"Liberation Sans", sans-serif' textLength="55" lengthAdjust="spacingAndGlyphs">Gate Voltage, V</text>
<text transform="translate(279.5,104) rotate(-90)" x="0" y="0" font-size="8.0" text-anchor="middle" fill="#333" font-family='"Liberation Sans", sans-serif' textLength="104" lengthAdjust="spacingAndGlyphs">Conductance, <tspan font-family='"Liberation Serif", serif' font-size="1.12em">1/Ω</tspan>per square</text>
<text x="269" y="9.4" font-size="12.5" fill="#222" font-family='"Liberation Serif", serif'>(b)</text>
<rect x="36.5" y="226.5" width="201" height="159" fill="none" stroke="#505050" stroke-width="1.1"/>
<path d="M53.5 385v-3M53.5 226.5v3M90.2 385v-3M90.2 226.5v3M126.9 385v-3M126.9 226.5v3M163.6 385v-3M163.6 226.5v3M200.3 385v-3M200.3 226.5v3M237 385v-3M237 226.5v3M35.15 385v-1.6M35.15 226.5v1.6M71.85 385v-1.6M71.85 226.5v1.6M108.55 385v-1.6M108.55 226.5v1.6M145.25 385v-1.6M145.25 226.5v1.6M181.95 385v-1.6M181.95 226.5v1.6M218.65 385v-1.6M218.65 226.5v1.6M36 358.75h3M237 358.75h-3M36 305.55h3M237 305.55h-3M36 252.35h3M237 252.35h-3M36 332.15h1.6M237 332.15h-1.6M36 278.95h1.6M237 278.95h-1.6" stroke="#505050" stroke-width="0.9" fill="none"/>
<text x="53.5" y="394" font-size="6.4" text-anchor="middle" fill="#333" font-family='"Liberation Sans", sans-serif' class="t">-0.5</text>
<text x="90.2" y="394" font-size="6.4" text-anchor="middle" fill="#333" font-family='"Liberation Sans", sans-serif' class="t">0.0</text>
<text x="126.9" y="394" font-size="6.4" text-anchor="middle" fill="#333" font-family='"Liberation Sans", sans-serif' class="t">0.5</text>
<text x="163.6" y="394" font-size="6.4" text-anchor="middle" fill="#333" font-family='"Liberation Sans", sans-serif' class="t">1.0</text>
<text x="200.3" y="394" font-size="6.4" text-anchor="middle" fill="#333" font-family='"Liberation Sans", sans-serif' class="t">1.5</text>
<text x="237" y="394" font-size="6.4" text-anchor="middle" fill="#333" font-family='"Liberation Sans", sans-serif' class="t">2.0</text>
<text x="32.5" y="361.25" font-size="6.4" text-anchor="end" fill="#333" font-family='"Liberation Sans", sans-serif' class="t">0.0002</text>
<text x="32.5" y="308.05" font-size="6.4" text-anchor="end" fill="#333" font-family='"Liberation Sans", sans-serif' class="t">0.0004</text>
<text x="32.5" y="254.85" font-size="6.4" text-anchor="end" fill="#333" font-family='"Liberation Sans", sans-serif' class="t">0.0006</text>
<path d="M53.5 364.55L55.5 360.75L51.5 360.75Z" fill="none" stroke="#f5b890" stroke-width="0.9"/>
<path d="M60.84 363.55L62.84 359.75L58.84 359.75Z" fill="none" stroke="#f5b890" stroke-width="0.9"/>
<path d="M68.18 360.87L70.18 357.07L66.18 357.07Z" fill="none" stroke="#f5b890" stroke-width="0.9"/>
<path d="M75.52 354.91L77.52 351.11L73.52 351.11Z" fill="none" stroke="#f5b890" stroke-width="0.9"/>
<path d="M82.86 346.73L84.86 342.93L80.86 342.93Z" fill="none" stroke="#f5b890" stroke-width="0.9"/>
<path d="M90.2 337.15L92.2 333.35L88.2 333.35Z" fill="none" stroke="#f5b890" stroke-width="0.9"/>
<path d="M97.54 326.44L99.54 322.64L95.54 322.64Z" fill="none" stroke="#f5b890" stroke-width="0.9"/>
<path d="M104.88 317.52L106.88 313.72L102.88 313.72Z" fill="none" stroke="#f5b890" stroke-width="0.9"/>
<path d="M112.22 309.23L114.22 305.43L110.22 305.43Z" fill="none" stroke="#f5b890" stroke-width="0.9"/>
<path d="M119.56 302.67L121.56 298.87L117.56 298.87Z" fill="none" stroke="#f5b890" stroke-width="0.9"/>
<path d="M126.9 296.28L128.9 292.48L124.9 292.48Z" fill="none" stroke="#f5b890" stroke-width="0.9"/>
<path d="M134.24 290.41L136.24 286.61L132.24 286.61Z" fill="none" stroke="#f5b890" stroke-width="0.9"/>
<path d="M141.58 285.33L143.58 281.53L139.58 281.53Z" fill="none" stroke="#f5b890" stroke-width="0.9"/>
<path d="M148.92 280.72L150.92 276.92L146.92 276.92Z" fill="none" stroke="#f5b890" stroke-width="0.9"/>
<path d="M156.26 277.09L158.26 273.29L154.26 273.29Z" fill="none" stroke="#f5b890" stroke-width="0.9"/>
<path d="M163.6 273.62L165.6 269.82L161.6 269.82Z" fill="none" stroke="#f5b890" stroke-width="0.9"/>
<path d="M170.94 270.41L172.94 266.61L168.94 266.61Z" fill="none" stroke="#f5b890" stroke-width="0.9"/>
<path d="M178.28 267.91L180.28 264.11L176.28 264.11Z" fill="none" stroke="#f5b890" stroke-width="0.9"/>
<path d="M185.62 266.3L187.62 262.5L183.62 262.5Z" fill="none" stroke="#f5b890" stroke-width="0.9"/>
<path d="M192.96 264.82L194.96 261.02L190.96 261.02Z" fill="none" stroke="#f5b890" stroke-width="0.9"/>
<path d="M200.3 263.57L202.3 259.77L198.3 259.77Z" fill="none" stroke="#f5b890" stroke-width="0.9"/>
<path d="M207.64 261.75L209.64 257.95L205.64 257.95Z" fill="none" stroke="#f5b890" stroke-width="0.9"/>
<path d="M214.98 259.89L216.98 256.09L212.98 256.09Z" fill="none" stroke="#f5b890" stroke-width="0.9"/>
<path d="M222.32 258.59L224.32 254.79L220.32 254.79Z" fill="none" stroke="#f5b890" stroke-width="0.9"/>
<rect x="51.85" y="359.37" width="3.3" height="3.3" fill="#1a2fd0" stroke="#1a2fd0" stroke-width="0.4"/>
<rect x="59.19" y="358.18" width="3.3" height="3.3" fill="#1a2fd0" stroke="#1a2fd0" stroke-width="0.4"/>
<rect x="66.53" y="354.44" width="3.3" height="3.3" fill="#1a2fd0" stroke="#1a2fd0" stroke-width="0.4"/>
<rect x="73.87" y="347.65" width="3.3" height="3.3" fill="#1a2fd0" stroke="#1a2fd0" stroke-width="0.4"/>
<rect x="81.21" y="339.08" width="3.3" height="3.3" fill="#1a2fd0" stroke="#1a2fd0" stroke-width="0.4"/>
<rect x="88.55" y="329.13" width="3.3" height="3.3" fill="#1a2fd0" stroke="#1a2fd0" stroke-width="0.4"/>
<rect x="95.89" y="318.35" width="3.3" height="3.3" fill="#1a2fd0" stroke="#1a2fd0" stroke-width="0.4"/>
<rect x="103.23" y="310.39" width="3.3" height="3.3" fill="#1a2fd0" stroke="#1a2fd0" stroke-width="0.4"/>
<rect x="110.57" y="301.78" width="3.3" height="3.3" fill="#1a2fd0" stroke="#1a2fd0" stroke-width="0.4"/>
<rect x="117.91" y="296.25" width="3.3" height="3.3" fill="#1a2fd0" stroke="#1a2fd0" stroke-width="0.4"/>
<rect x="125.25" y="289.15" width="3.3" height="3.3" fill="#1a2fd0" stroke="#1a2fd0" stroke-width="0.4"/>
<rect x="132.59" y="284.15" width="3.3" height="3.3" fill="#1a2fd0" stroke="#1a2fd0" stroke-width="0.4"/>
<rect x="139.93" y="278.82" width="3.3" height="3.3" fill="#1a2fd0" stroke="#1a2fd0" stroke-width="0.4"/>
<rect x="147.27" y="274.66" width="3.3" height="3.3" fill="#1a2fd0" stroke="#1a2fd0" stroke-width="0.4"/>
<rect x="154.61" y="271.16" width="3.3" height="3.3" fill="#1a2fd0" stroke="#1a2fd0" stroke-width="0.4"/>
<rect x="161.95" y="267.68" width="3.3" height="3.3" fill="#1a2fd0" stroke="#1a2fd0" stroke-width="0.4"/>
<rect x="169.29" y="264.65" width="3.3" height="3.3" fill="#1a2fd0" stroke="#1a2fd0" stroke-width="0.4"/>
<rect x="176.63" y="262.4" width="3.3" height="3.3" fill="#1a2fd0" stroke="#1a2fd0" stroke-width="0.4"/>
<rect x="183.97" y="261.01" width="3.3" height="3.3" fill="#1a2fd0" stroke="#1a2fd0" stroke-width="0.4"/>
<rect x="191.31" y="259.42" width="3.3" height="3.3" fill="#1a2fd0" stroke="#1a2fd0" stroke-width="0.4"/>
<rect x="198.65" y="258.35" width="3.3" height="3.3" fill="#1a2fd0" stroke="#1a2fd0" stroke-width="0.4"/>
<rect x="205.99" y="256.06" width="3.3" height="3.3" fill="#1a2fd0" stroke="#1a2fd0" stroke-width="0.4"/>
<rect x="213.33" y="254.62" width="3.3" height="3.3" fill="#1a2fd0" stroke="#1a2fd0" stroke-width="0.4"/>
<rect x="220.67" y="253.28" width="3.3" height="3.3" fill="#1a2fd0" stroke="#1a2fd0" stroke-width="0.4"/>
<path d="M53.5 359.02L55.5 362.82L51.5 362.82Z" fill="#30d838" stroke="#30d838" stroke-width="0.4"/>
<path d="M60.84 357.35L62.84 361.15L58.84 361.15Z" fill="#30d838" stroke="#30d838" stroke-width="0.4"/>
<path d="M68.18 352.45L70.18 356.25L66.18 356.25Z" fill="#30d838" stroke="#30d838" stroke-width="0.4"/>
<path d="M75.52 344.82L77.52 348.62L73.52 348.62Z" fill="#30d838" stroke="#30d838" stroke-width="0.4"/>
<path d="M82.86 335.74L84.86 339.54L80.86 339.54Z" fill="#30d838" stroke="#30d838" stroke-width="0.4"/>
<path d="M90.2 325.41L92.2 329.21L88.2 329.21Z" fill="#30d838" stroke="#30d838" stroke-width="0.4"/>
<path d="M97.54 315.23L99.54 319.03L95.54 319.03Z" fill="#30d838" stroke="#30d838" stroke-width="0.4"/>
<path d="M104.88 307.49L106.88 311.29L102.88 311.29Z" fill="#30d838" stroke="#30d838" stroke-width="0.4"/>
<path d="M112.22 299.49L114.22 303.29L110.22 303.29Z" fill="#30d838" stroke="#30d838" stroke-width="0.4"/>
<path d="M119.56 294.02L121.56 297.82L117.56 297.82Z" fill="#30d838" stroke="#30d838" stroke-width="0.4"/>
<path d="M126.9 287.12L128.9 290.92L124.9 290.92Z" fill="#30d838" stroke="#30d838" stroke-width="0.4"/>
<path d="M134.24 282.35L136.24 286.15L132.24 286.15Z" fill="#30d838" stroke="#30d838" stroke-width="0.4"/>
<path d="M141.58 277.2L143.58 281L139.58 281Z" fill="#30d838" stroke="#30d838" stroke-width="0.4"/>
<path d="M148.92 273.37L150.92 277.17L146.92 277.17Z" fill="#30d838" stroke="#30d838" stroke-width="0.4"/>
<path d="M156.26 269.93L158.26 273.73L154.26 273.73Z" fill="#30d838" stroke="#30d838" stroke-width="0.4"/>
<path d="M163.6 266.54L165.6 270.34L161.6 270.34Z" fill="#30d838" stroke="#30d838" stroke-width="0.4"/>
<path d="M170.94 263.76L172.94 267.56L168.94 267.56Z" fill="#30d838" stroke="#30d838" stroke-width="0.4"/>
<path d="M178.28 261.82L180.28 265.62L176.28 265.62Z" fill="#30d838" stroke="#30d838" stroke-width="0.4"/>
<path d="M185.62 260.48L187.62 264.28L183.62 264.28Z" fill="#30d838" stroke="#30d838" stroke-width="0.4"/>
<path d="M192.96 258.97L194.96 262.77L190.96 262.77Z" fill="#30d838" stroke="#30d838" stroke-width="0.4"/>
<path d="M200.3 257.75L202.3 261.55L198.3 261.55Z" fill="#30d838" stroke="#30d838" stroke-width="0.4"/>
<path d="M207.64 255.42L209.64 259.22L205.64 259.22Z" fill="#30d838" stroke="#30d838" stroke-width="0.4"/>
<path d="M214.98 254.14L216.98 257.94L212.98 257.94Z" fill="#30d838" stroke="#30d838" stroke-width="0.4"/>
<path d="M222.32 252.84L224.32 256.64L220.32 256.64Z" fill="#30d838" stroke="#30d838" stroke-width="0.4"/>
<circle cx="53.5" cy="359.82" r="1.9" fill="none" stroke="#f0a8b8" stroke-width="0.9"/>
<circle cx="60.84" cy="357.3" r="1.9" fill="none" stroke="#f0a8b8" stroke-width="0.9"/>
<circle cx="68.18" cy="351.49" r="1.9" fill="none" stroke="#f0a8b8" stroke-width="0.9"/>
<circle cx="75.52" cy="343.38" r="1.9" fill="none" stroke="#f0a8b8" stroke-width="0.9"/>
<circle cx="82.86" cy="333.87" r="1.9" fill="none" stroke="#f0a8b8" stroke-width="0.9"/>
<circle cx="90.2" cy="323.19" r="1.9" fill="none" stroke="#f0a8b8" stroke-width="0.9"/>
<circle cx="97.54" cy="314.09" r="1.9" fill="none" stroke="#f0a8b8" stroke-width="0.9"/>
<circle cx="104.88" cy="305.89" r="1.9" fill="none" stroke="#f0a8b8" stroke-width="0.9"/>
<circle cx="112.22" cy="299.11" r="1.9" fill="none" stroke="#f0a8b8" stroke-width="0.9"/>
<circle cx="119.56" cy="292.87" r="1.9" fill="none" stroke="#f0a8b8" stroke-width="0.9"/>
<circle cx="126.9" cy="286.84" r="1.9" fill="none" stroke="#f0a8b8" stroke-width="0.9"/>
<circle cx="134.24" cy="281.82" r="1.9" fill="none" stroke="#f0a8b8" stroke-width="0.9"/>
<circle cx="141.58" cy="277.11" r="1.9" fill="none" stroke="#f0a8b8" stroke-width="0.9"/>
<circle cx="148.92" cy="273.47" r="1.9" fill="none" stroke="#f0a8b8" stroke-width="0.9"/>
<circle cx="156.26" cy="270" r="1.9" fill="none" stroke="#f0a8b8" stroke-width="0.9"/>
<circle cx="163.6" cy="266.76" r="1.9" fill="none" stroke="#f0a8b8" stroke-width="0.9"/>
<circle cx="170.94" cy="264.22" r="1.9" fill="none" stroke="#f0a8b8" stroke-width="0.9"/>
<circle cx="178.28" cy="262.57" r="1.9" fill="none" stroke="#f0a8b8" stroke-width="0.9"/>
<circle cx="185.62" cy="261.11" r="1.9" fill="none" stroke="#f0a8b8" stroke-width="0.9"/>
<circle cx="192.96" cy="259.82" r="1.9" fill="none" stroke="#f0a8b8" stroke-width="0.9"/>
<circle cx="200.3" cy="258.1" r="1.9" fill="none" stroke="#f0a8b8" stroke-width="0.9"/>
<circle cx="207.64" cy="256.16" r="1.9" fill="none" stroke="#f0a8b8" stroke-width="0.9"/>
<circle cx="214.98" cy="254.86" r="1.9" fill="none" stroke="#f0a8b8" stroke-width="0.9"/>
<circle cx="222.32" cy="253.63" r="1.9" fill="none" stroke="#f0a8b8" stroke-width="0.9"/>
<path d="M122.7 282.3L87.75 314.72" stroke="#555" stroke-width="0.7"/>
<path d="M85.4 316.9L86.79 313.7L88.7 315.75Z" fill="#222"/>
<text x="141" y="322.8" font-size="8.6" text-anchor="start" fill="#333" font-family='"Liberation Sans", sans-serif' textLength="68" lengthAdjust="spacingAndGlyphs">Graphene transistor</text>
<rect x="148.6" y="328" width="2.4" height="2.4" fill="#1a2fd0" stroke="#1a2fd0" stroke-width="0.7"/>
<text x="160.3" y="332.2" font-size="8.6" text-anchor="start" fill="#333" font-family='"Liberation Sans", sans-serif' textLength="20" lengthAdjust="spacingAndGlyphs">water</text>
<circle cx="149.8" cy="338" r="1.5" fill="none" stroke="#f0a0b0" stroke-width="0.7"/>
<text x="160.3" y="341" font-size="8.6" text-anchor="start" fill="#333" font-family='"Liberation Sans", sans-serif' textLength="20" lengthAdjust="spacingAndGlyphs">water</text>
<path d="M149.8 346.05L151.3 348.9L148.3 348.9Z" fill="#30d030" stroke="#30d030" stroke-width="0.7"/>
<text x="160.3" y="350.7" font-size="8.6" text-anchor="start" fill="#333" font-family='"Liberation Sans", sans-serif' textLength="20" lengthAdjust="spacingAndGlyphs">water</text>
<path d="M149.8 358.95L151.3 356.1L148.3 356.1Z" fill="none" stroke="#f5b890" stroke-width="0.7"/>
<text x="160.3" y="360.3" font-size="8.6" text-anchor="start" fill="#333" font-family='"Liberation Sans", sans-serif' textLength="20" lengthAdjust="spacingAndGlyphs">water</text>
<text x="136.5" y="405.8" font-size="8.8" text-anchor="middle" fill="#333" font-family='"Liberation Sans", sans-serif' textLength="55" lengthAdjust="spacingAndGlyphs">Gate Voltage, V</text>
<text transform="translate(7.3,311.7) rotate(-90)" x="0" y="0" font-size="8.0" text-anchor="middle" fill="#333" font-family='"Liberation Sans", sans-serif' textLength="99.5" lengthAdjust="spacingAndGlyphs">Conductance, <tspan font-family='"Liberation Serif", serif' font-size="1.12em">1/Ω</tspan>per square</text>
<text x="2.5" y="223.2" font-size="12.5" fill="#222" font-family='"Liberation Serif", serif'>(c)</text>
<rect x="314.5" y="227.5" width="201" height="158" fill="none" stroke="#505050" stroke-width="1.1"/>
<path d="M331.8 385v-3M331.8 227.3v3M368.45 385v-3M368.45 227.3v3M405.1 385v-3M405.1 227.3v3M441.75 385v-3M441.75 227.3v3M478.4 385v-3M478.4 227.3v3M515.05 385v-3M515.05 227.3v3M313.48 385v-1.6M313.48 227.3v1.6M350.12 385v-1.6M350.12 227.3v1.6M386.77 385v-1.6M386.77 227.3v1.6M423.42 385v-1.6M423.42 227.3v1.6M460.07 385v-1.6M460.07 227.3v1.6M496.73 385v-1.6M496.73 227.3v1.6M314 373h3M515 373h-3M314 324.33h3M515 324.33h-3M314 275.66h3M515 275.66h-3M314 226.99h3M515 226.99h-3M314 348.66h1.6M515 348.66h-1.6M314 300h1.6M515 300h-1.6M314 251.32h1.6M515 251.32h-1.6" stroke="#505050" stroke-width="0.9" fill="none"/>
<text x="331.8" y="394" font-size="6.4" text-anchor="middle" fill="#333" font-family='"Liberation Sans", sans-serif' class="t">-0.5</text>
<text x="368.45" y="394" font-size="6.4" text-anchor="middle" fill="#333" font-family='"Liberation Sans", sans-serif' class="t">0.0</text>
<text x="405.1" y="394" font-size="6.4" text-anchor="middle" fill="#333" font-family='"Liberation Sans", sans-serif' class="t">0.5</text>
<text x="441.75" y="394" font-size="6.4" text-anchor="middle" fill="#333" font-family='"Liberation Sans", sans-serif' class="t">1.0</text>
<text x="478.4" y="394" font-size="6.4" text-anchor="middle" fill="#333" font-family='"Liberation Sans", sans-serif' class="t">1.5</text>
<text x="515.05" y="394" font-size="6.4" text-anchor="middle" fill="#333" font-family='"Liberation Sans", sans-serif' class="t">2.0</text>
<text x="310.5" y="375.5" font-size="6.4" text-anchor="end" fill="#333" font-family='"Liberation Sans", sans-serif' class="t">0.0003</text>
<text x="310.5" y="326.83" font-size="6.4" text-anchor="end" fill="#333" font-family='"Liberation Sans", sans-serif' class="t">0.0004</text>
<text x="310.5" y="278.16" font-size="6.4" text-anchor="end" fill="#333" font-family='"Liberation Sans", sans-serif' class="t">0.0005</text>
<text x="310.5" y="229.49" font-size="6.4" text-anchor="end" fill="#333" font-family='"Liberation Sans", sans-serif' class="t">0.0006</text>
<circle cx="331.8" cy="372.17" r="1.9" fill="none" stroke="#f06060" stroke-width="0.9"/>
<circle cx="331.8" cy="368.97" r="1.9" fill="none" stroke="#f06060" stroke-width="0.9"/>
<circle cx="339.13" cy="370.71" r="1.9" fill="none" stroke="#f06060" stroke-width="0.9"/>
<circle cx="339.13" cy="367.51" r="1.9" fill="none" stroke="#f06060" stroke-width="0.9"/>
<circle cx="346.46" cy="368.27" r="1.9" fill="none" stroke="#f06060" stroke-width="0.9"/>
<circle cx="346.46" cy="365.07" r="1.9" fill="none" stroke="#f06060" stroke-width="0.9"/>
<circle cx="353.79" cy="366.33" r="1.9" fill="none" stroke="#f06060" stroke-width="0.9"/>
<circle cx="353.79" cy="363.13" r="1.9" fill="none" stroke="#f06060" stroke-width="0.9"/>
<circle cx="361.12" cy="363.41" r="1.9" fill="none" stroke="#f06060" stroke-width="0.9"/>
<circle cx="361.12" cy="360.21" r="1.9" fill="none" stroke="#f06060" stroke-width="0.9"/>
<circle cx="368.45" cy="360.97" r="1.9" fill="none" stroke="#f06060" stroke-width="0.9"/>
<circle cx="368.45" cy="357.77" r="1.9" fill="none" stroke="#f06060" stroke-width="0.9"/>
<circle cx="375.78" cy="357.08" r="1.9" fill="none" stroke="#f06060" stroke-width="0.9"/>
<circle cx="375.78" cy="353.88" r="1.9" fill="none" stroke="#f06060" stroke-width="0.9"/>
<circle cx="383.11" cy="354.16" r="1.9" fill="none" stroke="#f06060" stroke-width="0.9"/>
<circle cx="383.11" cy="350.96" r="1.9" fill="none" stroke="#f06060" stroke-width="0.9"/>
<circle cx="390.44" cy="350.26" r="1.9" fill="none" stroke="#f06060" stroke-width="0.9"/>
<circle cx="390.44" cy="347.06" r="1.9" fill="none" stroke="#f06060" stroke-width="0.9"/>
<circle cx="397.77" cy="342.96" r="1.9" fill="none" stroke="#f06060" stroke-width="0.9"/>
<circle cx="397.77" cy="339.76" r="1.9" fill="none" stroke="#f06060" stroke-width="0.9"/>
<circle cx="405.1" cy="333.72" r="1.9" fill="none" stroke="#f06060" stroke-width="0.9"/>
<circle cx="405.1" cy="330.52" r="1.9" fill="none" stroke="#f06060" stroke-width="0.9"/>
<circle cx="412.43" cy="320.58" r="1.9" fill="none" stroke="#f06060" stroke-width="0.9"/>
<circle cx="412.43" cy="317.38" r="1.9" fill="none" stroke="#f06060" stroke-width="0.9"/>
<circle cx="419.76" cy="309.38" r="1.9" fill="none" stroke="#f06060" stroke-width="0.9"/>
<circle cx="419.76" cy="306.18" r="1.9" fill="none" stroke="#f06060" stroke-width="0.9"/>
<circle cx="427.09" cy="301.6" r="1.9" fill="none" stroke="#f06060" stroke-width="0.9"/>
<circle cx="427.09" cy="298.39" r="1.9" fill="none" stroke="#f06060" stroke-width="0.9"/>
<circle cx="434.42" cy="292.35" r="1.9" fill="none" stroke="#f06060" stroke-width="0.9"/>
<circle cx="434.42" cy="289.15" r="1.9" fill="none" stroke="#f06060" stroke-width="0.9"/>
<circle cx="441.75" cy="287.97" r="1.9" fill="none" stroke="#f06060" stroke-width="0.9"/>
<circle cx="441.75" cy="284.77" r="1.9" fill="none" stroke="#f06060" stroke-width="0.9"/>
<circle cx="449.08" cy="282.61" r="1.9" fill="none" stroke="#f06060" stroke-width="0.9"/>
<circle cx="449.08" cy="279.41" r="1.9" fill="none" stroke="#f06060" stroke-width="0.9"/>
<circle cx="456.41" cy="277.26" r="1.9" fill="none" stroke="#f06060" stroke-width="0.9"/>
<circle cx="456.41" cy="274.06" r="1.9" fill="none" stroke="#f06060" stroke-width="0.9"/>
<circle cx="463.74" cy="272.39" r="1.9" fill="none" stroke="#f06060" stroke-width="0.9"/>
<circle cx="463.74" cy="269.19" r="1.9" fill="none" stroke="#f06060" stroke-width="0.9"/>
<circle cx="471.07" cy="270.45" r="1.9" fill="none" stroke="#f06060" stroke-width="0.9"/>
<circle cx="471.07" cy="267.25" r="1.9" fill="none" stroke="#f06060" stroke-width="0.9"/>
<circle cx="478.4" cy="268.5" r="1.9" fill="none" stroke="#f06060" stroke-width="0.9"/>
<circle cx="478.4" cy="265.3" r="1.9" fill="none" stroke="#f06060" stroke-width="0.9"/>
<circle cx="485.73" cy="265.58" r="1.9" fill="none" stroke="#f06060" stroke-width="0.9"/>
<circle cx="485.73" cy="262.38" r="1.9" fill="none" stroke="#f06060" stroke-width="0.9"/>
<circle cx="493.06" cy="260.71" r="1.9" fill="none" stroke="#f06060" stroke-width="0.9"/>
<circle cx="493.06" cy="257.51" r="1.9" fill="none" stroke="#f06060" stroke-width="0.9"/>
<circle cx="500.39" cy="254.87" r="1.9" fill="none" stroke="#f06060" stroke-width="0.9"/>
<circle cx="500.39" cy="251.67" r="1.9" fill="none" stroke="#f06060" stroke-width="0.9"/>
<rect x="330" y="366.82" width="3.6" height="7.5" fill="#1a2ee8"/>
<rect x="337.33" y="362.92" width="3.6" height="7.5" fill="#1a2ee8"/>
<rect x="344.66" y="357.57" width="3.6" height="7.5" fill="#1a2ee8"/>
<rect x="351.99" y="351.24" width="3.6" height="7.5" fill="#1a2ee8"/>
<rect x="359.32" y="344.91" width="3.6" height="7.5" fill="#1a2ee8"/>
<rect x="366.65" y="340.05" width="3.6" height="7.5" fill="#1a2ee8"/>
<rect x="373.98" y="333.23" width="3.6" height="7.5" fill="#1a2ee8"/>
<rect x="381.31" y="327.88" width="3.6" height="7.5" fill="#1a2ee8"/>
<rect x="388.64" y="321.07" width="3.6" height="7.5" fill="#1a2ee8"/>
<rect x="395.97" y="315.71" width="3.6" height="7.5" fill="#1a2ee8"/>
<rect x="403.3" y="308.41" width="3.6" height="7.5" fill="#1a2ee8"/>
<rect x="410.63" y="299.17" width="3.6" height="7.5" fill="#1a2ee8"/>
<rect x="417.96" y="291.86" width="3.6" height="7.5" fill="#1a2ee8"/>
<rect x="425.29" y="283.1" width="3.6" height="7.5" fill="#1a2ee8"/>
<rect x="432.62" y="275.8" width="3.6" height="7.5" fill="#1a2ee8"/>
<rect x="439.95" y="270.45" width="3.6" height="7.5" fill="#1a2ee8"/>
<rect x="447.28" y="266.1" width="3.6" height="5.5" fill="#1a2ee8"/>
<rect x="454.61" y="262.69" width="3.6" height="5.5" fill="#1a2ee8"/>
<rect x="461.94" y="261.23" width="3.6" height="5.5" fill="#1a2ee8"/>
<rect x="469.27" y="258.8" width="3.6" height="5.5" fill="#1a2ee8"/>
<rect x="476.6" y="256.36" width="3.6" height="5.5" fill="#1a2ee8"/>
<rect x="483.93" y="251.98" width="3.6" height="5.5" fill="#1a2ee8"/>
<rect x="491.26" y="247.11" width="3.6" height="5.5" fill="#1a2ee8"/>
<rect x="498.59" y="242.25" width="3.6" height="5.5" fill="#1a2ee8"/>
<path d="M382.1 318.6L408.22 295.14" stroke="#555" stroke-width="0.7"/>
<path d="M410.6 293L409.15 296.18L407.28 294.1Z" fill="#222"/>
<path d="M406.6 342.3L423.27 320.35" stroke="#555" stroke-width="0.7"/>
<path d="M425.2 317.8L424.38 321.2L422.15 319.5Z" fill="#222"/>
<text x="333.5" y="246.8" font-size="8.6" text-anchor="start" fill="#333" font-family='"Liberation Sans", sans-serif' textLength="86" lengthAdjust="spacingAndGlyphs">Graphene, water + lysine</text>
<circle cx="335.3" cy="253.5" r="1.7" fill="none" stroke="#f05a5a" stroke-width="0.8"/>
<text x="346.3" y="256" font-size="8.6" text-anchor="start" fill="#333" font-family='"Liberation Sans", sans-serif' textLength="90" lengthAdjust="spacingAndGlyphs">before cleaning with water</text>
<rect x="333.8" y="260.5" width="3.2" height="4.2" fill="#1a2fe0"/>
<text x="346.3" y="265.2" font-size="8.6" text-anchor="start" fill="#333" font-family='"Liberation Sans", sans-serif' textLength="84" lengthAdjust="spacingAndGlyphs">after cleaning with water</text>
<text x="413.4" y="406.1" font-size="8.8" text-anchor="middle" fill="#333" font-family='"Liberation Sans", sans-serif' textLength="55" lengthAdjust="spacingAndGlyphs">Gate Voltage, V</text>
<text transform="translate(286.3,311.5) rotate(-90)" x="0" y="0" font-size="8.0" text-anchor="middle" fill="#333" font-family='"Liberation Sans", sans-serif' textLength="100" lengthAdjust="spacingAndGlyphs">Conductance, <tspan font-family='"Liberation Serif", serif' font-size="1.12em">1/Ω</tspan>per square</text>
<text x="272.5" y="224.3" font-size="12.5" fill="#222" font-family='"Liberation Serif", serif'>(d)</text>
<rect x="24.5" y="430.5" width="217" height="176" fill="none" stroke="#505050" stroke-width="1.1"/>
<path d="M41.25 606.75v-3M41.25 430.5v3M72.5 606.75v-3M72.5 430.5v3M103.75 606.75v-3M103.75 430.5v3M135 606.75v-3M135 430.5v3M166.25 606.75v-3M166.25 430.5v3M197.5 606.75v-3M197.5 430.5v3M228.75 606.75v-3M228.75 430.5v3M25.62 606.75v-1.6M25.62 430.5v1.6M56.88 606.75v-1.6M56.88 430.5v1.6M88.12 606.75v-1.6M88.12 430.5v1.6M119.38 606.75v-1.6M119.38 430.5v1.6M150.62 606.75v-1.6M150.62 430.5v1.6M181.88 606.75v-1.6M181.88 430.5v1.6M213.12 606.75v-1.6M213.12 430.5v1.6M24.5 592h3M241 592h-3M24.5 562.7h3M241 562.7h-3M24.5 533.4h3M241 533.4h-3M24.5 504.1h3M241 504.1h-3M24.5 474.8h3M241 474.8h-3M24.5 445.5h3M241 445.5h-3M24.5 606.65h1.6M241 606.65h-1.6M24.5 577.35h1.6M241 577.35h-1.6M24.5 548.05h1.6M241 548.05h-1.6M24.5 518.75h1.6M241 518.75h-1.6M24.5 489.45h1.6M241 489.45h-1.6M24.5 460.15h1.6M241 460.15h-1.6M24.5 430.85h1.6M241 430.85h-1.6" stroke="#505050" stroke-width="0.9" fill="none"/>
<text x="41.25" y="615.75" font-size="6.4" text-anchor="middle" fill="#333" font-family='"Liberation Sans", sans-serif' class="t">-0.5</text>
<text x="72.5" y="615.75" font-size="6.4" text-anchor="middle" fill="#333" font-family='"Liberation Sans", sans-serif' class="t">0.0</text>
<text x="103.75" y="615.75" font-size="6.4" text-anchor="middle" fill="#333" font-family='"Liberation Sans", sans-serif' class="t">0.5</text>
<text x="135" y="615.75" font-size="6.4" text-anchor="middle" fill="#333" font-family='"Liberation Sans", sans-serif' class="t">1.0</text>
<text x="166.25" y="615.75" font-size="6.4" text-anchor="middle" fill="#333" font-family='"Liberation Sans", sans-serif' class="t">1.5</text>
<text x="197.5" y="615.75" font-size="6.4" text-anchor="middle" fill="#333" font-family='"Liberation Sans", sans-serif' class="t">2.0</text>
<text x="228.75" y="615.75" font-size="6.4" text-anchor="middle" fill="#333" font-family='"Liberation Sans", sans-serif' class="t">2.5</text>
<text x="21" y="594.5" font-size="6.4" text-anchor="end" fill="#333" font-family='"Liberation Sans", sans-serif' class="t">0.0</text>
<text x="21" y="565.2" font-size="6.4" text-anchor="end" fill="#333" font-family='"Liberation Sans", sans-serif' class="t">0.2</text>
<text x="21" y="535.9" font-size="6.4" text-anchor="end" fill="#333" font-family='"Liberation Sans", sans-serif' class="t">0.4</text>
<text x="21" y="506.6" font-size="6.4" text-anchor="end" fill="#333" font-family='"Liberation Sans", sans-serif' class="t">0.6</text>
<text x="21" y="477.3" font-size="6.4" text-anchor="end" fill="#333" font-family='"Liberation Sans", sans-serif' class="t">0.8</text>
<text x="21" y="448" font-size="6.4" text-anchor="end" fill="#333" font-family='"Liberation Sans", sans-serif' class="t">1.0</text>
<polyline points="56.25,579.55 57.02,579.53 57.8,579.47 58.57,579.37 59.34,579.24 60.12,579.08 60.89,578.88 61.66,578.65 62.44,578.4 63.21,578.12 63.98,577.82 64.76,577.5 65.53,577.16 66.3,576.79 67.08,576.42 67.85,576.03 68.62,575.58 69.4,574.93 70.17,574.09 70.94,573.08 71.72,571.94 72.49,570.69 73.26,569.35 74.04,567.96 74.81,566.53 75.58,565.11 76.36,563.7 77.13,562.34 77.9,561.06 78.68,559.87 79.45,558.76 80.22,557.64 81,556.51 81.77,555.37 82.54,554.24 83.32,553.11 84.09,551.98 84.87,550.85 85.64,549.74 86.41,548.64 87.19,547.54 87.96,546.47 88.73,545.41 89.51,544.37 90.28,543.36 91.05,542.37 91.83,541.41 92.6,540.47 93.37,539.57 94.15,538.71 94.92,537.88 95.69,537.06 96.47,536.21 97.24,535.34 98.01,534.46 98.79,533.57 99.56,532.68 100.33,531.8 101.11,530.94 101.88,530.11 102.65,529.32 103.43,528.56 104.2,527.86 104.97,527.22 105.75,526.64 106.52,526.14 107.29,525.73 108.07,525.4 108.84,525.18 109.61,525.06 110.39,525.06 111.16,525.12 111.93,525.25 112.71,525.44 113.48,525.68 114.25,525.98 115.03,526.32 115.8,526.7 116.57,527.13 117.35,527.59 118.12,528.09 118.89,528.61 119.67,529.16 120.44,529.74 121.21,530.33 121.99,530.93 122.76,531.55 123.53,532.17 124.31,532.8 125.08,533.43 125.85,534.05 126.63,534.67 127.4,535.3 128.17,535.99 128.95,536.74 129.72,537.54 130.49,538.4 131.27,539.3 132.04,540.23 132.81,541.19 133.59,542.17 134.36,543.17 135.13,544.18 135.91,545.19 136.68,546.19 137.46,547.18 138.23,548.16 139,549.1 139.78,550.02 140.55,550.9 141.32,551.75 142.1,552.62 142.87,553.5 143.64,554.38 144.42,555.27 145.19,556.15 145.96,557.02 146.74,557.89 147.51,558.74 148.28,559.57 149.06,560.38 149.83,561.16 150.6,561.92 151.38,562.64 152.15,563.32 152.92,563.97 153.7,564.56 154.47,565.13 155.24,565.68 156.02,566.22 156.79,566.74 157.56,567.24 158.34,567.72 159.11,568.18 159.88,568.62 160.66,569.04 161.43,569.44 162.2,569.81 162.98,570.15 163.75,570.46" fill="none" stroke="#34e6ec" stroke-width="4.6" stroke-linejoin="round" stroke-linecap="round"/>
<polyline points="41.25,568.56 42.28,562.06 43.3,555.48 44.33,548.82 45.35,542.09 46.38,535.28 47.4,528.3 48.43,520.78 49.45,513.12 50.48,505.82 51.5,499.39 52.53,494.04 53.55,489.02 54.58,484.27 55.6,479.83 56.63,475.73 57.65,471.99 58.68,468.65 59.7,465.74 60.73,463.16 61.75,460.58 62.78,458.04 63.8,455.59 64.83,453.31 65.85,451.24 66.88,449.45 67.9,448 68.93,446.95 69.96,446.35 70.98,446.24 72.01,446.41 73.03,446.77 74.06,447.31 75.08,448 76.11,448.85 77.13,449.82 78.16,450.92 79.18,452.12 80.21,453.42 81.23,454.8 82.26,456.24 83.28,457.73 84.31,459.26 85.33,460.82 86.36,462.39 87.38,463.95 88.41,465.5 89.43,467.07 90.46,468.81 91.48,470.72 92.51,472.77 93.53,474.95 94.56,477.23 95.58,479.59 96.61,482.02 97.63,484.49 98.66,486.98 99.69,489.48 100.71,492.18 101.74,495.08 102.76,498.12 103.79,501.22 104.81,504.31 105.84,507.34 106.86,510.22 107.89,512.9 108.91,515.3 109.94,517.61 110.96,519.93 111.99,522.25 113.01,524.56 114.04,526.85 115.06,529.09 116.09,531.28 117.11,533.41 118.14,535.47 119.16,537.43 120.19,539.29 121.21,541.04 122.24,542.66 123.26,544.14 124.29,545.47 125.31,546.63 126.34,547.61 127.37,548.4 128.39,549.05 129.42,549.65 130.44,550.22 131.47,550.74 132.49,551.23 133.52,551.68 134.54,552.1 135.57,552.48 136.59,552.83 137.62,553.14 138.64,553.43 139.67,553.69 140.69,553.92 141.72,554.13 142.74,554.32 143.77,554.49 144.79,554.64 145.82,554.78 146.84,554.91 147.87,555.03 148.89,555.14 149.92,555.25 150.94,555.36 151.97,555.47 152.99,555.59 154.02,555.71 155.04,555.84 156.07,555.98 157.1,556.14 158.12,556.31 159.15,556.5 160.17,556.71 161.2,556.95 162.22,557.2 163.25,557.47 164.27,557.76 165.3,558.07 166.32,558.39 167.35,558.73 168.37,559.09 169.4,559.47 170.42,559.86 171.45,560.26 172.47,560.68 173.5,561.11 174.52,561.55 175.55,562.01 176.57,562.48 177.6,562.96 178.62,563.46 179.65,563.96 180.67,564.47 181.7,565 182.72,565.53 183.75,566.07" fill="none" stroke="#ec6e6e" stroke-width="4.4" stroke-linejoin="round" stroke-linecap="round"/>
<polyline points="41.25,568.56 42.28,562.06 43.3,555.48 44.33,548.82 45.35,542.09 46.38,535.28 47.4,528.3 48.43,520.78 49.45,513.12 50.48,505.82 51.5,499.39 52.53,494.04 53.55,489.02 54.58,484.27 55.6,479.83 56.63,475.73 57.65,471.99 58.68,468.65 59.7,465.74 60.73,463.16 61.75,460.58 62.78,458.04 63.8,455.59 64.83,453.31 65.85,451.24 66.88,449.45 67.9,448 68.93,446.95 69.96,446.35 70.98,446.24 72.01,446.41 73.03,446.77 74.06,447.31 75.08,448 76.11,448.85 77.13,449.82 78.16,450.92 79.18,452.12 80.21,453.42 81.23,454.8 82.26,456.24 83.28,457.73 84.31,459.26 85.33,460.82 86.36,462.39 87.38,463.95 88.41,465.5 89.43,467.07 90.46,468.81 91.48,470.72 92.51,472.77 93.53,474.95 94.56,477.23 95.58,479.59 96.61,482.02 97.63,484.49 98.66,486.98 99.69,489.48 100.71,492.18 101.74,495.08 102.76,498.12 103.79,501.22 104.81,504.31 105.84,507.34 106.86,510.22 107.89,512.9 108.91,515.3 109.94,517.61 110.96,519.93 111.99,522.25 113.01,524.56 114.04,526.85 115.06,529.09 116.09,531.28 117.11,533.41 118.14,535.47 119.16,537.43 120.19,539.29 121.21,541.04 122.24,542.66 123.26,544.14 124.29,545.47 125.31,546.63 126.34,547.61 127.37,548.4 128.39,549.05 129.42,549.65 130.44,550.22 131.47,550.74 132.49,551.23 133.52,551.68 134.54,552.1 135.57,552.48 136.59,552.83 137.62,553.14 138.64,553.43 139.67,553.69 140.69,553.92 141.72,554.13 142.74,554.32 143.77,554.49 144.79,554.64 145.82,554.78 146.84,554.91 147.87,555.03 148.89,555.14 149.92,555.25 150.94,555.36 151.97,555.47 152.99,555.59 154.02,555.71 155.04,555.84 156.07,555.98 157.1,556.14 158.12,556.31 159.15,556.5 160.17,556.71 161.2,556.95 162.22,557.2 163.25,557.47 164.27,557.76 165.3,558.07 166.32,558.39 167.35,558.73 168.37,559.09 169.4,559.47 170.42,559.86 171.45,560.26 172.47,560.68 173.5,561.11 174.52,561.55 175.55,562.01 176.57,562.48 177.6,562.96 178.62,563.46 179.65,563.96 180.67,564.47 181.7,565 182.72,565.53 183.75,566.07" fill="none" stroke="#f7b0b0" stroke-width="2.0" stroke-linejoin="round" stroke-linecap="round"/>
<path d="M41.25 566.69L42.95 569.92L39.55 569.92Z" fill="none" stroke="#ee6e6e" stroke-width="0.7"/>
<path d="M42 561.94L43.7 565.17L40.3 565.17Z" fill="none" stroke="#ee6e6e" stroke-width="0.7"/>
<path d="M42.75 557.15L44.45 560.38L41.05 560.38Z" fill="none" stroke="#ee6e6e" stroke-width="0.7"/>
<path d="M43.5 552.32L45.2 555.55L41.8 555.55Z" fill="none" stroke="#ee6e6e" stroke-width="0.7"/>
<path d="M44.25 547.45L45.95 550.68L42.55 550.68Z" fill="none" stroke="#ee6e6e" stroke-width="0.7"/>
<path d="M45 542.53L46.7 545.76L43.3 545.76Z" fill="none" stroke="#ee6e6e" stroke-width="0.7"/>
<path d="M45.75 537.57L47.45 540.8L44.05 540.8Z" fill="none" stroke="#ee6e6e" stroke-width="0.7"/>
<path d="M46.5 532.58L48.2 535.81L44.8 535.81Z" fill="none" stroke="#ee6e6e" stroke-width="0.7"/>
<path d="M47.25 527.49L48.95 530.72L45.55 530.72Z" fill="none" stroke="#ee6e6e" stroke-width="0.7"/>
<path d="M48 522.08L49.7 525.31L46.3 525.31Z" fill="none" stroke="#ee6e6e" stroke-width="0.7"/>
<path d="M48.75 516.48L50.45 519.71L47.05 519.71Z" fill="none" stroke="#ee6e6e" stroke-width="0.7"/>
<path d="M49.5 510.89L51.2 514.12L47.8 514.12Z" fill="none" stroke="#ee6e6e" stroke-width="0.7"/>
<path d="M50.25 505.51L51.95 508.74L48.55 508.74Z" fill="none" stroke="#ee6e6e" stroke-width="0.7"/>
<path d="M51 500.53L52.7 503.76L49.3 503.76Z" fill="none" stroke="#ee6e6e" stroke-width="0.7"/>
<path d="M51.75 496.15L53.45 499.38L50.05 499.38Z" fill="none" stroke="#ee6e6e" stroke-width="0.7"/>
<path d="M52.5 492.3L54.2 495.53L50.8 495.53Z" fill="none" stroke="#ee6e6e" stroke-width="0.7"/>
<path d="M53.25 488.6L54.95 491.83L51.55 491.83Z" fill="none" stroke="#ee6e6e" stroke-width="0.7"/>
<polyline points="41.25,550.98 42.25,544.66 43.25,538.53 44.24,532.59 45.24,526.87 46.24,521.38 47.24,516.09 48.24,510.65 49.24,505.19 50.23,499.96 51.23,495.26 52.23,491.34 53.23,488.47 54.23,486.13 55.22,483.87 56.22,481.73 57.22,479.74 58.22,477.94 59.22,476.35 60.22,475.01 61.21,473.95 62.21,473.2 63.21,472.81 64.21,472.78 65.21,473.08 66.21,473.67 67.2,474.51 68.2,475.57 69.2,476.83 70.2,478.25 71.2,479.81 72.19,481.48 73.19,483.22 74.19,485.01 75.19,486.81 76.19,488.61 77.19,490.55 78.18,492.86 79.18,495.45 80.18,498.28 81.18,501.26 82.18,504.34 83.17,507.46 84.17,510.54 85.17,513.52 86.17,516.33 87.17,519.05 88.17,521.81 89.16,524.6 90.16,527.41 91.16,530.21 92.16,532.99 93.16,535.74 94.15,538.44 95.15,541.08 96.15,543.63 97.15,546.09 98.15,548.44 99.15,550.66 100.14,552.74 101.14,554.73 102.14,556.67 103.14,558.56 104.14,560.38 105.13,562.13 106.13,563.79 107.13,565.36 108.13,566.84 109.13,568.2 110.13,569.44 111.12,570.64 112.12,571.8 113.12,572.93 114.12,574.01 115.12,575.01 116.12,575.92 117.11,576.73 118.11,577.41 119.11,577.96 120.11,578.39 121.11,578.8 122.1,579.17 123.1,579.51 124.1,579.82 125.1,580.09 126.1,580.32 127.1,580.51 128.09,580.65 129.09,580.75 130.09,580.83 131.09,580.9 132.09,580.97 133.08,581.04 134.08,581.09 135.08,581.15 136.08,581.19 137.08,581.23 138.08,581.26 139.07,581.28 140.07,581.3 141.07,581.31 142.07,581.3 143.07,581.27 144.06,581.23 145.06,581.17 146.06,581.1 147.06,581.02 148.06,580.92 149.06,580.82 150.05,580.71 151.05,580.59 152.05,580.47 153.05,580.34 154.05,580.22 155.04,580.09 156.04,579.97 157.04,579.86 158.04,579.74 159.04,579.64 160.04,579.54 161.03,579.45 162.03,579.36 163.03,579.27 164.03,579.18 165.03,579.09 166.03,579.01 167.02,578.92 168.02,578.83 169.02,578.74 170.02,578.65 171.02,578.56 172.01,578.48 173.01,578.39 174.01,578.3 175.01,578.22 176.01,578.13 177.01,578.05 178,577.96 179,577.87 180,577.79" fill="none" stroke="#f57a10" stroke-width="4.4" stroke-linejoin="round" stroke-linecap="round"/>
<path d="M41.25 549L43.05 552.42L39.45 552.42Z" fill="#f57a10" stroke="#f57a10" stroke-width="0.5"/>
<path d="M42 544.24L43.8 547.66L40.2 547.66Z" fill="#f57a10" stroke="#f57a10" stroke-width="0.5"/>
<path d="M42.75 539.57L44.55 542.99L40.95 542.99Z" fill="#f57a10" stroke="#f57a10" stroke-width="0.5"/>
<path d="M43.5 535.02L45.3 538.44L41.7 538.44Z" fill="#f57a10" stroke="#f57a10" stroke-width="0.5"/>
<path d="M44.25 530.58L46.05 534L42.45 534Z" fill="#f57a10" stroke="#f57a10" stroke-width="0.5"/>
<path d="M45 526.26L46.8 529.68L43.2 529.68Z" fill="#f57a10" stroke="#f57a10" stroke-width="0.5"/>
<path d="M45.75 522.07L47.55 525.49L43.95 525.49Z" fill="#f57a10" stroke="#f57a10" stroke-width="0.5"/>
<path d="M46.5 518.01L48.3 521.43L44.7 521.43Z" fill="#f57a10" stroke="#f57a10" stroke-width="0.5"/>
<path d="M47.25 514.05L49.05 517.47L45.45 517.47Z" fill="#f57a10" stroke="#f57a10" stroke-width="0.5"/>
<path d="M48 509.98L49.8 513.4L46.2 513.4Z" fill="#f57a10" stroke="#f57a10" stroke-width="0.5"/>
<path d="M48.75 505.85L50.55 509.27L46.95 509.27Z" fill="#f57a10" stroke="#f57a10" stroke-width="0.5"/>
<path d="M49.5 501.79L51.3 505.21L47.7 505.21Z" fill="#f57a10" stroke="#f57a10" stroke-width="0.5"/>
<path d="M50.25 497.9L52.05 501.32L48.45 501.32Z" fill="#f57a10" stroke="#f57a10" stroke-width="0.5"/>
<path d="M51 494.31L52.8 497.73L49.2 497.73Z" fill="#f57a10" stroke="#f57a10" stroke-width="0.5"/>
<path d="M51.75 491.13L53.55 494.55L49.95 494.55Z" fill="#f57a10" stroke="#f57a10" stroke-width="0.5"/>
<path d="M52.5 488.47L54.3 491.89L50.7 491.89Z" fill="#f57a10" stroke="#f57a10" stroke-width="0.5"/>
<path d="M53.25 486.44L55.05 489.86L51.45 489.86Z" fill="#f57a10" stroke="#f57a10" stroke-width="0.5"/>
<polyline points="41.25,564.75 41.89,559.72 42.53,554.86 43.17,550.2 43.8,545.76 44.44,541.58 45.08,537.69 45.72,534.12 46.36,530.89 47,528.04 47.63,525.59 48.27,523.31 48.91,521.13 49.55,519.07 50.19,517.14 50.83,515.37 51.47,513.78 52.1,512.4 52.74,511.25 53.38,510.36 54.02,509.71 54.66,509.13 55.3,508.57 55.94,508.04 56.57,507.54 57.21,507.06 57.85,506.63 58.49,506.22 59.13,505.86 59.77,505.53 60.4,505.25 61.04,505.01 61.68,504.82 62.32,504.68 62.96,504.58 63.6,504.54 64.24,504.57 64.87,504.71 65.51,504.96 66.15,505.3 66.79,505.72 67.43,506.23 68.07,506.81 68.71,507.45 69.34,508.15 69.98,508.9 70.62,509.69 71.26,510.52 71.9,511.37 72.54,512.24 73.17,513.13 73.81,514.01 74.45,514.89 75.09,515.76 75.73,516.61 76.37,517.43 77.01,518.28 77.64,519.17 78.28,520.11 78.92,521.08 79.56,522.1 80.2,523.15 80.84,524.23 81.47,525.34 82.11,526.48 82.75,527.64 83.39,528.82 84.03,530.02 84.67,531.23 85.31,532.46 85.94,533.69 86.58,534.93 87.22,536.18 87.86,537.42 88.5,538.67 89.14,539.91 89.78,541.14 90.41,542.36 91.05,543.56 91.69,544.75 92.33,545.92 92.97,547.07 93.61,548.19 94.24,549.29 94.88,550.35 95.52,551.39 96.16,552.45 96.8,553.5 97.44,554.57 98.08,555.63 98.71,556.7 99.35,557.77 99.99,558.84 100.63,559.91 101.27,560.97 101.91,562.03 102.54,563.08 103.18,564.12 103.82,565.16 104.46,566.18 105.1,567.19 105.74,568.18 106.38,569.16 107.01,570.12 107.65,571.06 108.29,571.98 108.93,572.88 109.57,573.76 110.21,574.61 110.85,575.44 111.48,576.23 112.12,577 112.76,577.74 113.4,578.44 114.04,579.12 114.68,579.78 115.31,580.43 115.95,581.08 116.59,581.71 117.23,582.34 117.87,582.95 118.51,583.56 119.15,584.15 119.78,584.73 120.42,585.3 121.06,585.85 121.7,586.4 122.34,586.93 122.98,587.44 123.62,587.94 124.25,588.42 124.89,588.89 125.53,589.34 126.17,589.78 126.81,590.2 127.45,590.59 128.08,590.97 128.72,591.34 129.36,591.68 130,592" fill="none" stroke="#5252e2" stroke-width="4.2" stroke-linejoin="round" stroke-linecap="round"/>
<polyline points="41.25,564.75 41.89,559.72 42.53,554.86 43.17,550.2 43.8,545.76 44.44,541.58 45.08,537.69 45.72,534.12 46.36,530.89 47,528.04 47.63,525.59 48.27,523.31 48.91,521.13 49.55,519.07 50.19,517.14 50.83,515.37 51.47,513.78 52.1,512.4 52.74,511.25 53.38,510.36 54.02,509.71 54.66,509.13 55.3,508.57 55.94,508.04 56.57,507.54 57.21,507.06 57.85,506.63 58.49,506.22 59.13,505.86 59.77,505.53 60.4,505.25 61.04,505.01 61.68,504.82 62.32,504.68 62.96,504.58 63.6,504.54 64.24,504.57 64.87,504.71 65.51,504.96 66.15,505.3 66.79,505.72 67.43,506.23 68.07,506.81 68.71,507.45 69.34,508.15 69.98,508.9 70.62,509.69 71.26,510.52 71.9,511.37 72.54,512.24 73.17,513.13 73.81,514.01 74.45,514.89 75.09,515.76 75.73,516.61 76.37,517.43 77.01,518.28 77.64,519.17 78.28,520.11 78.92,521.08 79.56,522.1 80.2,523.15 80.84,524.23 81.47,525.34 82.11,526.48 82.75,527.64 83.39,528.82 84.03,530.02 84.67,531.23 85.31,532.46 85.94,533.69 86.58,534.93 87.22,536.18 87.86,537.42 88.5,538.67 89.14,539.91 89.78,541.14 90.41,542.36 91.05,543.56 91.69,544.75 92.33,545.92 92.97,547.07 93.61,548.19 94.24,549.29 94.88,550.35 95.52,551.39 96.16,552.45 96.8,553.5 97.44,554.57 98.08,555.63 98.71,556.7 99.35,557.77 99.99,558.84 100.63,559.91 101.27,560.97 101.91,562.03 102.54,563.08 103.18,564.12 103.82,565.16 104.46,566.18 105.1,567.19 105.74,568.18 106.38,569.16 107.01,570.12 107.65,571.06 108.29,571.98 108.93,572.88 109.57,573.76 110.21,574.61 110.85,575.44 111.48,576.23 112.12,577 112.76,577.74 113.4,578.44 114.04,579.12 114.68,579.78 115.31,580.43 115.95,581.08 116.59,581.71 117.23,582.34 117.87,582.95 118.51,583.56 119.15,584.15 119.78,584.73 120.42,585.3 121.06,585.85 121.7,586.4 122.34,586.93 122.98,587.44 123.62,587.94 124.25,588.42 124.89,588.89 125.53,589.34 126.17,589.78 126.81,590.2 127.45,590.59 128.08,590.97 128.72,591.34 129.36,591.68 130,592" fill="none" stroke="#cdcdf8" stroke-width="1.8" stroke-linejoin="round" stroke-linecap="round"/>
<circle cx="41.25" cy="564.75" r="1.7" fill="none" stroke="#5a5ae6" stroke-width="0.7"/>
<circle cx="42" cy="558.86" r="1.7" fill="none" stroke="#5a5ae6" stroke-width="0.7"/>
<circle cx="42.75" cy="553.21" r="1.7" fill="none" stroke="#5a5ae6" stroke-width="0.7"/>
<circle cx="43.5" cy="547.84" r="1.7" fill="none" stroke="#5a5ae6" stroke-width="0.7"/>
<circle cx="44.25" cy="542.81" r="1.7" fill="none" stroke="#5a5ae6" stroke-width="0.7"/>
<circle cx="45" cy="538.17" r="1.7" fill="none" stroke="#5a5ae6" stroke-width="0.7"/>
<circle cx="45.75" cy="533.96" r="1.7" fill="none" stroke="#5a5ae6" stroke-width="0.7"/>
<circle cx="46.5" cy="530.22" r="1.7" fill="none" stroke="#5a5ae6" stroke-width="0.7"/>
<circle cx="47.25" cy="527.02" r="1.7" fill="none" stroke="#5a5ae6" stroke-width="0.7"/>
<circle cx="48" cy="524.28" r="1.7" fill="none" stroke="#5a5ae6" stroke-width="0.7"/>
<circle cx="48.75" cy="521.68" r="1.7" fill="none" stroke="#5a5ae6" stroke-width="0.7"/>
<polyline points="50.62,590.53 51.63,586.43 52.64,582.38 53.65,578.38 54.65,574.43 55.66,570.53 56.67,566.68 57.68,562.88 58.68,559.13 59.69,555.42 60.7,551.77 61.7,548.16 62.71,544.6 63.72,541.09 64.73,537.62 65.73,534.2 66.74,530.82 67.75,527.5 68.75,524.21 69.76,520.98 70.77,517.78 71.78,514.63 72.78,511.53 73.79,508.47 74.8,505.45 75.8,502.47 76.81,499.54 77.82,496.63 78.83,493.77 79.83,490.94 80.84,488.17 81.85,485.46 82.86,482.8 83.86,480.22 84.87,477.72 85.88,475.31 86.88,472.98 87.89,470.76 88.9,468.63 89.91,466.53 90.91,464.44 91.92,462.39 92.93,460.42 93.93,458.57 94.94,456.88 95.95,455.39 96.96,454.13 97.96,453.11 98.97,452.14 99.98,451.19 100.98,450.28 101.99,449.42 103,448.63 104.01,447.92 105.01,447.32 106.02,446.83 107.03,446.48 108.04,446.28 109.04,446.24 110.05,446.35 111.06,446.6 112.06,446.97 113.07,447.45 114.08,448.05 115.09,448.74 116.09,449.52 117.1,450.38 118.11,451.31 119.11,452.3 120.12,453.34 121.13,454.42 122.14,455.54 123.14,456.68 124.15,457.84 125.16,459.01 126.16,460.17 127.17,461.32 128.18,462.45 129.19,463.56 130.19,464.75 131.2,466.03 132.21,467.39 133.21,468.82 134.22,470.32 135.23,471.88 136.24,473.5 137.24,475.17 138.25,476.87 139.26,478.62 140.27,480.38 141.27,482.17 142.28,483.97 143.29,485.78 144.29,487.58 145.3,489.38 146.31,491.17 147.32,492.93 148.32,494.66 149.33,496.36 150.34,498.02 151.34,499.63 152.35,501.18 153.36,502.67 154.37,504.09 155.37,505.48 156.38,506.87 157.39,508.27 158.39,509.65 159.4,511.01 160.41,512.33 161.42,513.61 162.42,514.83 163.43,515.98 164.44,517.05 165.45,518.03 166.45,518.92 167.46,519.77 168.47,520.59 169.47,521.39 170.48,522.14 171.49,522.84 172.5,523.48 173.5,524.03 174.51,524.5 175.52,524.87 176.52,525.17 177.53,525.46 178.54,525.74 179.55,525.98 180.55,526.19 181.56,526.36 182.57,526.47 183.57,526.51 184.58,526.5 185.59,526.46 186.6,526.38 187.6,526.26 188.61,526.1 189.62,525.89 190.62,525.64" fill="none" stroke="#ea5aa0" stroke-width="4.2" stroke-linejoin="round" stroke-linecap="round"/>
<polyline points="50.62,590.53 51.63,586.43 52.64,582.38 53.65,578.38 54.65,574.43 55.66,570.53 56.67,566.68 57.68,562.88 58.68,559.13 59.69,555.42 60.7,551.77 61.7,548.16 62.71,544.6 63.72,541.09 64.73,537.62 65.73,534.2 66.74,530.82 67.75,527.5 68.75,524.21 69.76,520.98 70.77,517.78 71.78,514.63 72.78,511.53 73.79,508.47 74.8,505.45 75.8,502.47 76.81,499.54 77.82,496.63 78.83,493.77 79.83,490.94 80.84,488.17 81.85,485.46 82.86,482.8 83.86,480.22 84.87,477.72 85.88,475.31 86.88,472.98 87.89,470.76 88.9,468.63 89.91,466.53 90.91,464.44 91.92,462.39 92.93,460.42 93.93,458.57 94.94,456.88 95.95,455.39 96.96,454.13 97.96,453.11 98.97,452.14 99.98,451.19 100.98,450.28 101.99,449.42 103,448.63 104.01,447.92 105.01,447.32 106.02,446.83 107.03,446.48 108.04,446.28 109.04,446.24 110.05,446.35 111.06,446.6 112.06,446.97 113.07,447.45 114.08,448.05 115.09,448.74 116.09,449.52 117.1,450.38 118.11,451.31 119.11,452.3 120.12,453.34 121.13,454.42 122.14,455.54 123.14,456.68 124.15,457.84 125.16,459.01 126.16,460.17 127.17,461.32 128.18,462.45 129.19,463.56 130.19,464.75 131.2,466.03 132.21,467.39 133.21,468.82 134.22,470.32 135.23,471.88 136.24,473.5 137.24,475.17 138.25,476.87 139.26,478.62 140.27,480.38 141.27,482.17 142.28,483.97 143.29,485.78 144.29,487.58 145.3,489.38 146.31,491.17 147.32,492.93 148.32,494.66 149.33,496.36 150.34,498.02 151.34,499.63 152.35,501.18 153.36,502.67 154.37,504.09 155.37,505.48 156.38,506.87 157.39,508.27 158.39,509.65 159.4,511.01 160.41,512.33 161.42,513.61 162.42,514.83 163.43,515.98 164.44,517.05 165.45,518.03 166.45,518.92 167.46,519.77 168.47,520.59 169.47,521.39 170.48,522.14 171.49,522.84 172.5,523.48 173.5,524.03 174.51,524.5 175.52,524.87 176.52,525.17 177.53,525.46 178.54,525.74 179.55,525.98 180.55,526.19 181.56,526.36 182.57,526.47 183.57,526.51 184.58,526.5 185.59,526.46 186.6,526.38 187.6,526.26 188.61,526.1 189.62,525.89 190.62,525.64" fill="none" stroke="#f8c4de" stroke-width="1.8" stroke-linejoin="round" stroke-linecap="round"/>
<rect x="49.02" y="588.93" width="3.2" height="3.2" fill="#fff" fill-opacity="0" stroke="#ee62a8" stroke-width="0.7"/>
<rect x="49.96" y="585.11" width="3.2" height="3.2" fill="#fff" fill-opacity="0" stroke="#ee62a8" stroke-width="0.7"/>
<rect x="50.9" y="581.34" width="3.2" height="3.2" fill="#fff" fill-opacity="0" stroke="#ee62a8" stroke-width="0.7"/>
<rect x="51.84" y="577.61" width="3.2" height="3.2" fill="#fff" fill-opacity="0" stroke="#ee62a8" stroke-width="0.7"/>
<rect x="52.77" y="573.92" width="3.2" height="3.2" fill="#fff" fill-opacity="0" stroke="#ee62a8" stroke-width="0.7"/>
<rect x="53.71" y="570.27" width="3.2" height="3.2" fill="#fff" fill-opacity="0" stroke="#ee62a8" stroke-width="0.7"/>
<rect x="54.65" y="566.67" width="3.2" height="3.2" fill="#fff" fill-opacity="0" stroke="#ee62a8" stroke-width="0.7"/>
<rect x="55.59" y="563.11" width="3.2" height="3.2" fill="#fff" fill-opacity="0" stroke="#ee62a8" stroke-width="0.7"/>
<rect x="56.53" y="559.6" width="3.2" height="3.2" fill="#fff" fill-opacity="0" stroke="#ee62a8" stroke-width="0.7"/>
<rect x="57.46" y="556.12" width="3.2" height="3.2" fill="#fff" fill-opacity="0" stroke="#ee62a8" stroke-width="0.7"/>
<rect x="58.4" y="552.69" width="3.2" height="3.2" fill="#fff" fill-opacity="0" stroke="#ee62a8" stroke-width="0.7"/>
<rect x="59.34" y="549.3" width="3.2" height="3.2" fill="#fff" fill-opacity="0" stroke="#ee62a8" stroke-width="0.7"/>
<rect x="60.28" y="545.95" width="3.2" height="3.2" fill="#fff" fill-opacity="0" stroke="#ee62a8" stroke-width="0.7"/>
<rect x="61.21" y="542.64" width="3.2" height="3.2" fill="#fff" fill-opacity="0" stroke="#ee62a8" stroke-width="0.7"/>
<rect x="62.15" y="539.38" width="3.2" height="3.2" fill="#fff" fill-opacity="0" stroke="#ee62a8" stroke-width="0.7"/>
<rect x="63.09" y="536.15" width="3.2" height="3.2" fill="#fff" fill-opacity="0" stroke="#ee62a8" stroke-width="0.7"/>
<rect x="64.03" y="532.96" width="3.2" height="3.2" fill="#fff" fill-opacity="0" stroke="#ee62a8" stroke-width="0.7"/>
<rect x="64.96" y="529.82" width="3.2" height="3.2" fill="#fff" fill-opacity="0" stroke="#ee62a8" stroke-width="0.7"/>
<rect x="65.9" y="526.71" width="3.2" height="3.2" fill="#fff" fill-opacity="0" stroke="#ee62a8" stroke-width="0.7"/>
<rect x="66.84" y="523.64" width="3.2" height="3.2" fill="#fff" fill-opacity="0" stroke="#ee62a8" stroke-width="0.7"/>
<rect x="67.78" y="520.61" width="3.2" height="3.2" fill="#fff" fill-opacity="0" stroke="#ee62a8" stroke-width="0.7"/>
<rect x="68.71" y="517.62" width="3.2" height="3.2" fill="#fff" fill-opacity="0" stroke="#ee62a8" stroke-width="0.7"/>
<rect x="69.65" y="514.67" width="3.2" height="3.2" fill="#fff" fill-opacity="0" stroke="#ee62a8" stroke-width="0.7"/>
<rect x="70.59" y="511.76" width="3.2" height="3.2" fill="#fff" fill-opacity="0" stroke="#ee62a8" stroke-width="0.7"/>
<rect x="71.53" y="508.88" width="3.2" height="3.2" fill="#fff" fill-opacity="0" stroke="#ee62a8" stroke-width="0.7"/>
<rect x="72.46" y="506.05" width="3.2" height="3.2" fill="#fff" fill-opacity="0" stroke="#ee62a8" stroke-width="0.7"/>
<rect x="73.4" y="503.25" width="3.2" height="3.2" fill="#fff" fill-opacity="0" stroke="#ee62a8" stroke-width="0.7"/>
<rect x="74.34" y="500.48" width="3.2" height="3.2" fill="#fff" fill-opacity="0" stroke="#ee62a8" stroke-width="0.7"/>
<rect x="75.28" y="497.75" width="3.2" height="3.2" fill="#fff" fill-opacity="0" stroke="#ee62a8" stroke-width="0.7"/>
<rect x="76.21" y="495.05" width="3.2" height="3.2" fill="#fff" fill-opacity="0" stroke="#ee62a8" stroke-width="0.7"/>
<rect x="77.15" y="492.38" width="3.2" height="3.2" fill="#fff" fill-opacity="0" stroke="#ee62a8" stroke-width="0.7"/>
<rect x="78.09" y="489.75" width="3.2" height="3.2" fill="#fff" fill-opacity="0" stroke="#ee62a8" stroke-width="0.7"/>
<rect x="79.03" y="487.16" width="3.2" height="3.2" fill="#fff" fill-opacity="0" stroke="#ee62a8" stroke-width="0.7"/>
<rect x="79.96" y="484.62" width="3.2" height="3.2" fill="#fff" fill-opacity="0" stroke="#ee62a8" stroke-width="0.7"/>
<path d="M183.75 563.87L185.75 567.67L181.75 567.67Z" fill="none" stroke="#ee6e6e" stroke-width="0.8"/>
<circle cx="130" cy="592" r="1.8" fill="#fff" stroke="#5a5ae6" stroke-width="0.8"/>
<rect x="188.93" y="523.94" width="3.4" height="3.4" fill="#fff" fill-opacity="0" stroke="#ee62a8" stroke-width="0.8"/>
<path d="M166 438.93L167.7 442.16L164.3 442.16Z" fill="none" stroke="#f06a6a" stroke-width="0.7"/>
<text x="178.1" y="443.8" font-size="8.6" text-anchor="start" fill="#333" font-family='"Liberation Sans", sans-serif' textLength="50" lengthAdjust="spacingAndGlyphs">#1: 8.5 mg/ml</text>
<path d="M166 448.83L167.7 452.06L164.3 452.06Z" fill="#e88020" stroke="#e88020" stroke-width="0.7"/>
<text x="178.1" y="453.7" font-size="8.6" text-anchor="start" fill="#333" font-family='"Liberation Sans", sans-serif' textLength="41" lengthAdjust="spacingAndGlyphs">#1: 3 mg/ml</text>
<circle cx="166" cy="460.7" r="1.7" fill="none" stroke="#5050e0" stroke-width="0.7"/>
<text x="178.1" y="463.7" font-size="8.6" text-anchor="start" fill="#333" font-family='"Liberation Sans", sans-serif' textLength="50" lengthAdjust="spacingAndGlyphs">#1: 0.5 mg/ml</text>
<rect x="164.3" y="468.4" width="3.4" height="3.4" fill="#fff" fill-opacity="0" stroke="#f090b0" stroke-width="0.7"/>
<text x="178.1" y="473.1" font-size="8.6" text-anchor="start" fill="#333" font-family='"Liberation Sans", sans-serif' textLength="41" lengthAdjust="spacingAndGlyphs">#2: 3 mg/ml</text>
<circle cx="166" cy="480.4" r="1.7" fill="#30e0d8" stroke="#30e0d8" stroke-width="0.7"/>
<text x="178.1" y="483.4" font-size="8.6" text-anchor="start" fill="#333" font-family='"Liberation Sans", sans-serif' textLength="53" lengthAdjust="spacingAndGlyphs">#2: 0.23 mg/ml</text>
<text x="132" y="628.2" font-size="8.8" text-anchor="middle" fill="#333" font-family='"Liberation Sans", sans-serif' textLength="55" lengthAdjust="spacingAndGlyphs">Gate Voltage, V</text>
<text transform="translate(6.9,524.3) rotate(-90)" x="0" y="0" font-size="8.0" text-anchor="middle" fill="#333" font-family='"Liberation Sans", sans-serif' textLength="151" lengthAdjust="spacingAndGlyphs">Normalized conductance suppression, a.u.</text>
<text x="1.2" y="425.3" font-size="12.5" fill="#222" font-family='"Liberation Serif", serif'>(e)</text>
<rect x="294.5" y="431.5" width="221" height="175" fill="none" stroke="#505050" stroke-width="1.1"/>
<path d="M314 606.2v-3M314 431.3v3M354.2 606.2v-3M354.2 431.3v3M394.4 606.2v-3M394.4 431.3v3M434.6 606.2v-3M434.6 431.3v3M474.8 606.2v-3M474.8 431.3v3M515 606.2v-3M515 431.3v3M293.9 606.2v-1.6M293.9 431.3v1.6M334.1 606.2v-1.6M334.1 431.3v1.6M374.3 606.2v-1.6M374.3 431.3v1.6M414.5 606.2v-1.6M414.5 431.3v1.6M454.7 606.2v-1.6M454.7 431.3v1.6M494.9 606.2v-1.6M494.9 431.3v1.6M294 589.5h3M515 589.5h-3M294 557.85h3M515 557.85h-3M294 526.2h3M515 526.2h-3M294 494.55h3M515 494.55h-3M294 462.9h3M515 462.9h-3M294 431.25h3M515 431.25h-3M294 605.33h1.6M515 605.33h-1.6M294 573.67h1.6M515 573.67h-1.6M294 542.02h1.6M515 542.02h-1.6M294 510.38h1.6M515 510.38h-1.6M294 478.73h1.6M515 478.73h-1.6M294 447.08h1.6M515 447.08h-1.6" stroke="#505050" stroke-width="0.9" fill="none"/>
<text x="314" y="615.2" font-size="7.0" text-anchor="middle" fill="#333" font-family='"Liberation Sans", sans-serif' class="t">0</text>
<text x="354.2" y="615.2" font-size="7.0" text-anchor="middle" fill="#333" font-family='"Liberation Sans", sans-serif' class="t">2</text>
<text x="394.4" y="615.2" font-size="7.0" text-anchor="middle" fill="#333" font-family='"Liberation Sans", sans-serif' class="t">4</text>
<text x="434.6" y="615.2" font-size="7.0" text-anchor="middle" fill="#333" font-family='"Liberation Sans", sans-serif' class="t">6</text>
<text x="474.8" y="615.2" font-size="7.0" text-anchor="middle" fill="#333" font-family='"Liberation Sans", sans-serif' class="t">8</text>
<text x="515" y="615.2" font-size="7.0" text-anchor="middle" fill="#333" font-family='"Liberation Sans", sans-serif' class="t">10</text>
<text x="290.5" y="592" font-size="7.0" text-anchor="end" fill="#333" font-family='"Liberation Sans", sans-serif' class="t">0.0002</text>
<text x="290.5" y="560.35" font-size="7.0" text-anchor="end" fill="#333" font-family='"Liberation Sans", sans-serif' class="t">0.0003</text>
<text x="290.5" y="528.7" font-size="7.0" text-anchor="end" fill="#333" font-family='"Liberation Sans", sans-serif' class="t">0.0004</text>
<text x="290.5" y="497.05" font-size="7.0" text-anchor="end" fill="#333" font-family='"Liberation Sans", sans-serif' class="t">0.0005</text>
<text x="290.5" y="465.4" font-size="7.0" text-anchor="end" fill="#333" font-family='"Liberation Sans", sans-serif' class="t">0.0006</text>
<text x="290.5" y="433.75" font-size="7.0" text-anchor="end" fill="#333" font-family='"Liberation Sans", sans-serif' class="t">0.0007</text>
<polyline points="314,578.42 324.05,589.5 370.28,592.66 434.6,591.72 484.85,592.03" fill="none" stroke="#111" stroke-width="1.0"/>
<polyline points="314,532.53 324.05,568.93 370.28,573.67 434.6,586.34 484.85,586.34" fill="none" stroke="#e03030" stroke-width="1.0"/>
<polyline points="314,492.97 324.05,511.64 370.28,515.44 434.6,533.8 484.85,540.76" fill="none" stroke="#1a1ae0" stroke-width="1.0"/>
<polyline points="314,476.83 324.05,480.94 370.28,488.22 434.6,495.18 484.85,500.88" fill="none" stroke="#3a9a9a" stroke-width="1.0"/>
<rect x="311.25" y="575.67" width="5.5" height="5.5" fill="#111" stroke="#111" stroke-width="0.9"/>
<rect x="321.3" y="586.75" width="5.5" height="5.5" fill="#111" stroke="#111" stroke-width="0.9"/>
<rect x="367.53" y="589.91" width="5.5" height="5.5" fill="#111" stroke="#111" stroke-width="0.9"/>
<rect x="431.85" y="588.97" width="5.5" height="5.5" fill="#111" stroke="#111" stroke-width="0.9"/>
<rect x="482.1" y="589.28" width="5.5" height="5.5" fill="#111" stroke="#111" stroke-width="0.9"/>
<circle cx="314" cy="532.53" r="2.75" fill="#fff" stroke="#e03030" stroke-width="0.9"/>
<circle cx="324.05" cy="568.93" r="2.75" fill="#fff" stroke="#e03030" stroke-width="0.9"/>
<circle cx="370.28" cy="573.67" r="2.75" fill="#fff" stroke="#e03030" stroke-width="0.9"/>
<circle cx="434.6" cy="586.34" r="2.75" fill="#fff" stroke="#e03030" stroke-width="0.9"/>
<circle cx="484.85" cy="586.34" r="2.75" fill="#fff" stroke="#e03030" stroke-width="0.9"/>
<path d="M314 489.94L316.75 495.17L311.25 495.17Z" fill="#1a1ae0" stroke="#1a1ae0" stroke-width="0.9"/>
<path d="M324.05 508.62L326.8 513.84L321.3 513.84Z" fill="#1a1ae0" stroke="#1a1ae0" stroke-width="0.9"/>
<path d="M370.28 512.41L373.03 517.64L367.53 517.64Z" fill="#1a1ae0" stroke="#1a1ae0" stroke-width="0.9"/>
<path d="M434.6 530.77L437.35 536L431.85 536Z" fill="#1a1ae0" stroke="#1a1ae0" stroke-width="0.9"/>
<path d="M484.85 537.73L487.6 542.96L482.1 542.96Z" fill="#1a1ae0" stroke="#1a1ae0" stroke-width="0.9"/>
<path d="M314 479.85L316.75 474.63L311.25 474.63Z" fill="#fff" stroke="#80c0c8" stroke-width="0.9"/>
<path d="M324.05 483.97L326.8 478.74L321.3 478.74Z" fill="#fff" stroke="#80c0c8" stroke-width="0.9"/>
<path d="M370.28 491.25L373.03 486.02L367.53 486.02Z" fill="#fff" stroke="#80c0c8" stroke-width="0.9"/>
<path d="M434.6 498.21L437.35 492.98L431.85 492.98Z" fill="#fff" stroke="#80c0c8" stroke-width="0.9"/>
<path d="M484.85 503.9L487.6 498.68L482.1 498.68Z" fill="#fff" stroke="#80c0c8" stroke-width="0.9"/>
<path d="M411.9 446H431.2" stroke="#111" stroke-width="1.1"/>
<rect x="419" y="443.5" width="5" height="5" fill="#111" stroke="#111" stroke-width="0.9"/>
<text x="434.2" y="449" font-size="8.4" fill="#222" font-family='"Liberation Sans", sans-serif'>V<tspan font-size="6.6" dy="0.4">gate</tspan><tspan dy="-0.4"> = -0.4 V</tspan></text>
<path d="M411.9 456.6H431.2" stroke="#e03030" stroke-width="1.1"/>
<circle cx="421.5" cy="456.6" r="2.5" fill="#fff" stroke="#e03030" stroke-width="0.9"/>
<text x="434.2" y="459.6" font-size="8.4" fill="#222" font-family='"Liberation Sans", sans-serif'>V<tspan font-size="6.6" dy="0.4">gate</tspan><tspan dy="-0.4"> = 0 V</tspan></text>
<path d="M411.9 467.2H431.2" stroke="#1a1ae0" stroke-width="1.1"/>
<path d="M421.5 464.45L424 469.2L419 469.2Z" fill="#1a1ae0" stroke="#1a1ae0" stroke-width="0.9"/>
<text x="434.2" y="470.2" font-size="8.4" fill="#222" font-family='"Liberation Sans", sans-serif'>V<tspan font-size="6.6" dy="0.4">gate</tspan><tspan dy="-0.4"> = 0.5 V</tspan></text>
<path d="M411.9 477.8H431.2" stroke="#3a9a9a" stroke-width="1.1"/>
<path d="M421.5 480.55L424 475.8L419 475.8Z" fill="#fff" stroke="#80c0c8" stroke-width="0.9"/>
<text x="434.2" y="480.8" font-size="8.4" fill="#222" font-family='"Liberation Sans", sans-serif'>V<tspan font-size="6.6" dy="0.4">gate</tspan><tspan dy="-0.4"> = 1 V</tspan></text>
<text x="404" y="628.2" font-size="8.8" text-anchor="middle" fill="#333" font-family='"Liberation Sans", sans-serif' textLength="104" lengthAdjust="spacingAndGlyphs">Lysine concentration, mg/ml</text>
<text transform="translate(262.6,524.3) rotate(-90)" x="0" y="0" font-size="8.6" text-anchor="middle" fill="#333" font-family='"Liberation Sans", sans-serif' textLength="110" lengthAdjust="spacingAndGlyphs">Conductance, <tspan font-family='"Liberation Serif", serif' font-size="1.12em">1/Ω</tspan>per square</text>
<text x="251.5" y="425.3" font-size="12.5" fill="#222" font-family='"Liberation Serif", serif'>(f)</text>
</svg></body></html>
